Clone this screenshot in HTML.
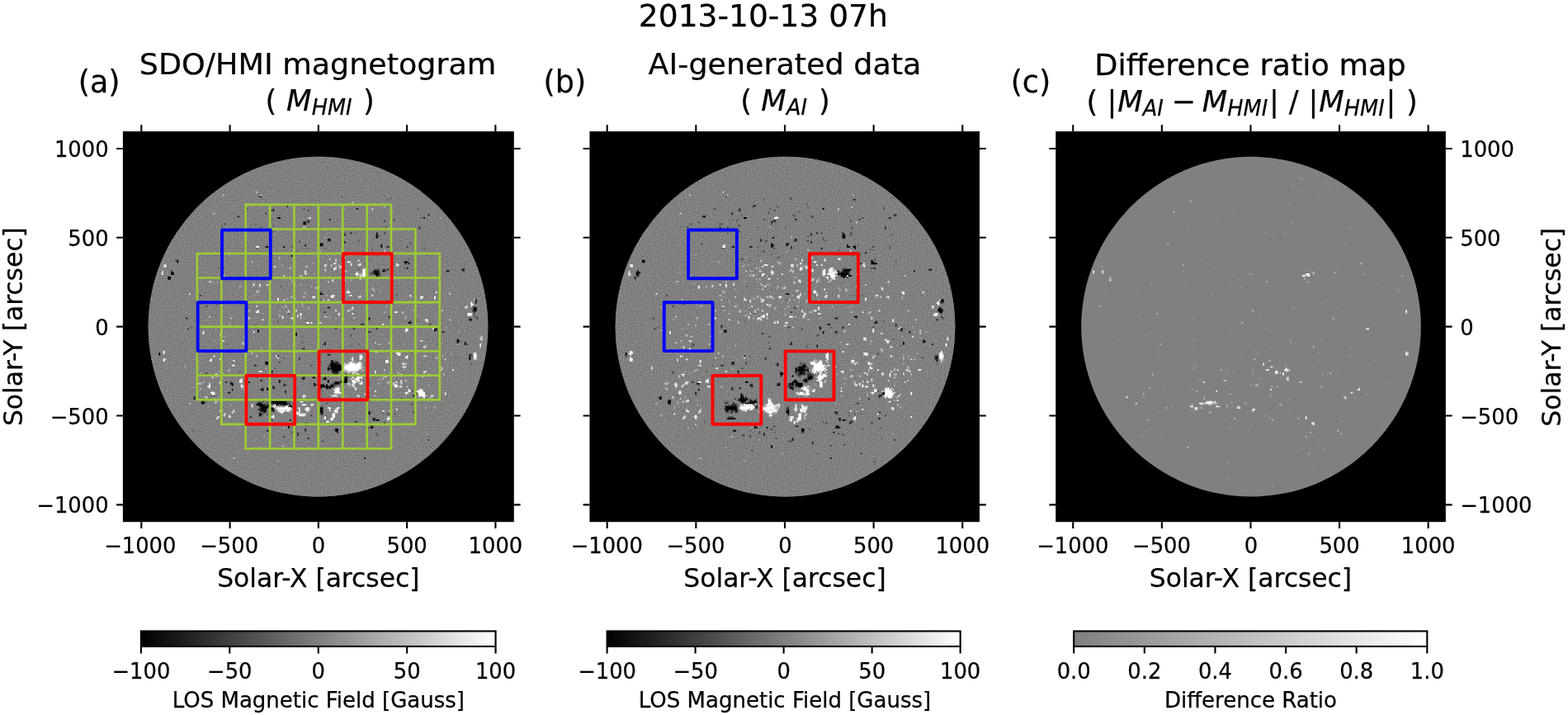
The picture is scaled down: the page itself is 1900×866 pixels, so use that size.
<!DOCTYPE html>
<html lang="en"><head><meta charset="utf-8"><title>2013-10-13 07h</title>
<style>
html,body{margin:0;padding:0;background:#fff;}
body{width:1900px;height:866px;overflow:hidden;}
svg{display:block;}
text{font-family:"DejaVu Sans", "Liberation Sans", sans-serif;fill:#000;stroke:#000;stroke-width:0.25px;stroke-linejoin:round;}
</style></head><body>
<svg width="1900" height="866" viewBox="0 0 1900 866">
<defs>
<linearGradient id="g1" x1="0" x2="1" y1="0" y2="0"><stop offset="0" stop-color="#000"/><stop offset="1" stop-color="#fff"/></linearGradient>
<linearGradient id="g2" x1="0" x2="1" y1="0" y2="0"><stop offset="0" stop-color="#808080"/><stop offset="1" stop-color="#fff"/></linearGradient>
<clipPath id="dk0"><ellipse cx="385.50" cy="395.65" rx="205.8" ry="205.9"/></clipPath><clipPath id="dk1"><ellipse cx="951.50" cy="395.65" rx="205.8" ry="205.9"/></clipPath><clipPath id="dk2"><ellipse cx="1516.00" cy="395.65" rx="205.8" ry="205.9"/></clipPath><filter id="nz0" x="0" y="0" width="100%" height="100%" color-interpolation-filters="sRGB"><feTurbulence type="fractalNoise" baseFrequency="0.85" numOctaves="1" seed="11" result="t"/><feColorMatrix type="matrix" values="0.36 0 0 0 0.322  0.36 0 0 0 0.322  0.36 0 0 0 0.322  0 0 0 0 1"/><feGaussianBlur stdDeviation="0.7"/></filter><filter id="nz1" x="0" y="0" width="100%" height="100%" color-interpolation-filters="sRGB"><feTurbulence type="fractalNoise" baseFrequency="0.85" numOctaves="1" seed="16" result="t"/><feColorMatrix type="matrix" values="0.36 0 0 0 0.322  0.36 0 0 0 0.322  0.36 0 0 0 0.322  0 0 0 0 1"/><feGaussianBlur stdDeviation="0.7"/></filter><filter id="sb" x="-2%" y="-2%" width="104%" height="104%" color-interpolation-filters="sRGB"><feGaussianBlur stdDeviation="0.6"/></filter></defs>
<rect width="1900" height="866" fill="#fff"/>

<text x="924.80" y="32.30" font-size="37.6" text-anchor="middle">2013-10-13 07h</text>
<g id="panel0">
<rect x="148.9" y="159.1" width="473.90" height="473.10" fill="#000"/>
<ellipse cx="385.5" cy="395.65" rx="205.8" ry="205.9" fill="#808080"/>
<rect x="149.85" y="160.05" width="472.00" height="471.20" filter="url(#nz0)" clip-path="url(#dk0)"/><g filter="url(#sb)" clip-path="url(#dk0)"><path fill="#000" d="M347.1 248.4h1.8v1.84h-1.8zM431.9 252.1h1.8v1.84h-1.8zM330.5 253.9h1.8v1.84h-1.8zM518.6 259.4h1.8v1.84h-1.8zM288.1 261.3h1.8v1.84h-1.8zM336.1 263.1h3.7v1.84h-3.7zM513.1 263.1h1.8v1.84h-1.8zM398.8 265.0h1.8v1.84h-1.8zM372.9 266.8h1.8v1.84h-1.8zM367.4 268.6h3.7v1.84h-3.7zM367.4 270.5h3.7v1.84h-3.7zM424.6 281.5h1.8v1.84h-1.8zM455.9 281.5h1.8v1.84h-1.8zM417.2 283.4h1.8v1.84h-1.8zM455.9 283.4h1.8v1.84h-1.8zM455.9 285.2h1.8v1.84h-1.8zM455.9 287.1h1.8v1.84h-1.8zM396.9 288.9h3.7v1.84h-3.7zM398.8 290.7h1.8v1.84h-1.8zM417.2 292.6h1.8v1.84h-1.8zM387.7 294.4h3.7v1.84h-3.7zM369.3 296.3h1.8v1.84h-1.8zM387.7 296.3h3.7v1.84h-3.7zM461.4 296.3h1.8v1.84h-1.8zM323.2 298.1h1.8v1.84h-1.8zM343.4 298.1h1.8v1.84h-1.8zM461.4 298.1h1.8v1.84h-1.8zM468.8 298.1h1.8v1.84h-1.8zM352.7 309.1h1.8v1.84h-1.8zM214.4 314.7h1.8v1.84h-1.8zM214.4 316.5h1.8v1.84h-1.8zM489.1 316.5h5.5v1.84h-5.5zM490.9 318.3h1.8v1.84h-1.8zM494.6 318.3h1.8v1.84h-1.8zM492.8 323.9h1.8v1.84h-1.8zM468.8 325.7h1.8v1.84h-1.8zM559.2 325.7h3.7v1.84h-3.7zM452.2 327.5h7.4v1.84h-7.4zM463.3 327.5h3.7v1.84h-3.7zM540.7 327.5h3.7v1.84h-3.7zM207.0 329.4h3.7v1.84h-3.7zM452.2 329.4h7.4v1.84h-7.4zM207.0 331.2h3.7v1.84h-3.7zM454.1 331.2h5.5v1.84h-5.5zM455.9 333.1h1.8v1.84h-1.8zM203.3 334.9h3.7v1.84h-3.7zM203.3 336.8h3.7v1.84h-3.7zM387.7 355.2h3.7v1.84h-3.7zM575.8 362.5h1.8v1.84h-1.8zM575.8 364.4h1.8v1.84h-1.8zM396.9 371.7h1.8v1.84h-1.8zM573.9 371.7h3.7v1.84h-3.7zM573.9 373.6h3.7v1.84h-3.7zM573.9 375.4h3.7v1.84h-3.7zM470.7 382.8h1.8v1.84h-1.8zM225.4 384.6h1.8v1.84h-1.8zM446.7 384.6h1.8v1.84h-1.8zM568.4 386.4h3.7v1.84h-3.7zM494.6 390.1h3.7v1.84h-3.7zM437.5 392.0h1.8v1.84h-1.8zM308.4 393.8h1.8v1.84h-1.8zM455.9 395.6h1.8v1.84h-1.8zM492.8 395.6h1.8v1.84h-1.8zM526.0 397.5h3.7v1.84h-3.7zM312.1 399.3h1.8v1.84h-1.8zM526.0 399.3h1.8v1.84h-1.8zM312.1 401.2h1.8v1.84h-1.8zM446.7 401.2h1.8v1.84h-1.8zM358.2 403.0h1.8v1.84h-1.8zM358.2 404.9h1.8v1.84h-1.8zM553.6 410.4h1.8v1.84h-1.8zM553.6 412.2h3.7v1.84h-3.7zM553.6 414.1h1.8v1.84h-1.8zM562.9 414.1h1.8v1.84h-1.8zM393.2 415.9h1.8v1.84h-1.8zM562.9 415.9h1.8v1.84h-1.8zM367.4 421.4h1.8v1.84h-1.8zM192.3 426.9h1.8v1.84h-1.8zM192.3 428.8h1.8v1.84h-1.8zM396.9 428.8h1.8v1.84h-1.8zM336.1 430.6h1.8v1.84h-1.8zM568.4 430.6h1.8v1.84h-1.8zM568.4 432.5h1.8v1.84h-1.8zM568.4 434.3h1.8v1.84h-1.8zM321.3 438.0h3.7v1.84h-3.7zM400.6 438.0h3.7v1.84h-3.7zM408.0 438.0h1.8v1.84h-1.8zM321.3 439.8h3.7v1.84h-3.7zM400.6 439.8h7.4v1.84h-7.4zM409.8 439.8h1.8v1.84h-1.8zM308.4 441.7h1.8v1.84h-1.8zM398.8 441.7h14.8v1.84h-14.8zM400.6 443.5h12.9v1.84h-12.9zM396.9 445.3h18.4v1.84h-18.4zM396.9 447.2h1.8v1.84h-1.8zM402.4 447.2h11.1v1.84h-11.1zM328.7 449.0h1.8v1.84h-1.8zM402.4 449.0h7.4v1.84h-7.4zM404.3 450.9h1.8v1.84h-1.8zM408.0 450.9h1.8v1.84h-1.8zM419.0 452.7h1.8v1.84h-1.8zM419.0 454.6h1.8v1.84h-1.8zM367.4 456.4h1.8v1.84h-1.8zM378.5 456.4h3.7v1.84h-3.7zM393.2 456.4h1.8v1.84h-1.8zM419.0 456.4h1.8v1.84h-1.8zM367.4 458.2h1.8v1.84h-1.8zM391.4 458.2h3.7v1.84h-3.7zM417.2 458.2h3.7v1.84h-3.7zM315.8 460.1h1.8v1.84h-1.8zM337.9 460.1h1.8v1.84h-1.8zM396.9 460.1h1.8v1.84h-1.8zM413.5 460.1h1.8v1.84h-1.8zM417.2 460.1h3.7v1.84h-3.7zM273.4 461.9h1.8v1.84h-1.8zM301.0 461.9h1.8v1.84h-1.8zM337.9 461.9h1.8v1.84h-1.8zM396.9 461.9h1.8v1.84h-1.8zM406.1 461.9h3.7v1.84h-3.7zM411.7 461.9h9.2v1.84h-9.2zM278.9 463.8h3.7v1.84h-3.7zM380.3 463.8h1.8v1.84h-1.8zM404.3 463.8h7.4v1.84h-7.4zM280.8 465.6h1.8v1.84h-1.8zM343.4 465.6h1.8v1.84h-1.8zM380.3 465.6h1.8v1.84h-1.8zM387.7 465.6h5.5v1.84h-5.5zM395.1 465.6h1.8v1.84h-1.8zM400.6 465.6h3.7v1.84h-3.7zM330.5 467.4h1.8v1.84h-1.8zM385.9 467.4h18.4v1.84h-18.4zM323.2 469.3h1.8v1.84h-1.8zM330.5 469.3h1.8v1.84h-1.8zM387.7 469.3h1.8v1.84h-1.8zM395.1 469.3h1.8v1.84h-1.8zM398.8 469.3h1.8v1.84h-1.8zM280.8 471.1h1.8v1.84h-1.8zM315.8 471.1h3.7v1.84h-3.7zM323.2 471.1h1.8v1.84h-1.8zM345.3 473.0h1.8v1.84h-1.8zM277.1 474.8h1.8v1.84h-1.8zM503.9 474.8h1.8v1.84h-1.8zM500.2 478.5h1.8v1.84h-1.8zM234.7 480.3h1.8v1.84h-1.8zM234.7 482.2h1.8v1.84h-1.8zM243.9 485.8h3.7v1.84h-3.7zM326.9 485.8h20.3v1.84h-20.3zM243.9 487.7h3.7v1.84h-3.7zM312.1 487.7h5.5v1.84h-5.5zM330.5 487.7h18.4v1.84h-18.4zM310.3 489.5h11.1v1.84h-11.1zM323.2 489.5h1.8v1.84h-1.8zM334.2 489.5h3.7v1.84h-3.7zM339.8 489.5h1.8v1.84h-1.8zM343.4 489.5h3.7v1.84h-3.7zM350.8 489.5h1.8v1.84h-1.8zM313.9 491.4h12.9v1.84h-12.9zM350.8 491.4h3.7v1.84h-3.7zM315.8 493.2h9.2v1.84h-9.2zM328.7 493.2h1.8v1.84h-1.8zM387.7 493.2h3.7v1.84h-3.7zM313.9 495.0h9.2v1.84h-9.2zM328.7 495.0h3.7v1.84h-3.7zM387.7 495.0h3.7v1.84h-3.7zM315.8 496.9h7.4v1.84h-7.4zM330.5 496.9h1.8v1.84h-1.8zM387.7 496.9h3.7v1.84h-3.7zM319.5 498.7h1.8v1.84h-1.8zM387.7 498.7h3.7v1.84h-3.7zM446.7 498.7h1.8v1.84h-1.8zM313.9 500.6h3.7v1.84h-3.7zM389.5 500.6h1.8v1.84h-1.8zM446.7 500.6h1.8v1.84h-1.8zM313.9 502.4h1.8v1.84h-1.8zM302.9 504.2h1.8v1.84h-1.8zM452.2 506.1h1.8v1.84h-1.8zM350.8 507.9h1.8v1.84h-1.8zM452.2 507.9h1.8v1.84h-1.8zM455.9 507.9h3.7v1.84h-3.7zM465.1 511.6h1.8v1.84h-1.8zM369.3 513.5h1.8v1.84h-1.8zM349.0 515.3h1.8v1.84h-1.8zM450.4 515.3h1.8v1.84h-1.8zM349.0 517.1h1.8v1.84h-1.8zM448.5 517.1h3.7v1.84h-3.7zM369.3 519.0h1.8v1.84h-1.8zM406.1 519.0h3.7v1.84h-3.7zM323.2 520.8h1.8v1.84h-1.8zM406.1 520.8h3.7v1.84h-3.7zM408.0 522.7h1.8v1.84h-1.8zM360.0 524.5h1.8v1.84h-1.8zM372.9 530.0h1.8v1.84h-1.8zM441.2 553.9h1.8v1.84h-1.8z"/><path fill="#303030" d="M313.9 237.4h3.7v1.84h-3.7zM328.7 253.9h1.8v1.84h-1.8zM372.9 253.9h1.8v1.84h-1.8zM321.3 257.6h1.8v1.84h-1.8zM476.2 265.0h1.8v1.84h-1.8zM465.1 266.8h1.8v1.84h-1.8zM372.9 268.6h1.8v1.84h-1.8zM271.5 270.5h1.8v1.84h-1.8zM507.5 274.2h1.8v1.84h-1.8zM507.5 276.0h1.8v1.84h-1.8zM306.6 277.9h1.8v1.84h-1.8zM465.1 281.5h1.8v1.84h-1.8zM457.8 285.2h1.8v1.84h-1.8zM396.9 290.7h1.8v1.84h-1.8zM413.5 290.7h1.8v1.84h-1.8zM321.3 298.1h1.8v1.84h-1.8zM492.8 298.1h1.8v1.84h-1.8zM326.9 312.8h1.8v1.84h-1.8zM212.5 314.7h1.8v1.84h-1.8zM267.9 323.9h3.7v1.84h-3.7zM454.1 325.7h1.8v1.84h-1.8zM457.8 325.7h1.8v1.84h-1.8zM463.3 325.7h3.7v1.84h-3.7zM207.0 327.5h1.8v1.84h-1.8zM561.0 327.5h1.8v1.84h-1.8zM450.4 329.4h1.8v1.84h-1.8zM457.8 333.1h1.8v1.84h-1.8zM387.7 353.3h1.8v1.84h-1.8zM242.0 357.0h1.8v1.84h-1.8zM575.8 366.2h1.8v1.84h-1.8zM249.4 369.9h1.8v1.84h-1.8zM398.8 371.7h1.8v1.84h-1.8zM572.1 375.4h1.8v1.84h-1.8zM393.2 377.2h1.8v1.84h-1.8zM573.9 377.2h1.8v1.84h-1.8zM472.5 382.8h1.8v1.84h-1.8zM568.4 384.6h1.8v1.84h-1.8zM577.6 384.6h1.8v1.84h-1.8zM446.7 386.4h1.8v1.84h-1.8zM496.5 388.3h1.8v1.84h-1.8zM439.3 392.0h1.8v1.84h-1.8zM520.4 392.0h1.8v1.84h-1.8zM428.3 395.6h1.8v1.84h-1.8zM227.3 397.5h1.8v1.84h-1.8zM406.1 397.5h1.8v1.84h-1.8zM428.3 397.5h1.8v1.84h-1.8zM455.9 397.5h1.8v1.84h-1.8zM527.8 399.3h1.8v1.84h-1.8zM535.2 401.2h3.7v1.84h-3.7zM393.2 414.1h1.8v1.84h-1.8zM391.4 415.9h1.8v1.84h-1.8zM564.7 415.9h1.8v1.84h-1.8zM398.8 428.8h1.8v1.84h-1.8zM568.4 428.8h3.7v1.84h-3.7zM361.9 434.3h1.8v1.84h-1.8zM400.6 436.1h3.7v1.84h-3.7zM337.9 438.0h1.8v1.84h-1.8zM404.3 438.0h3.7v1.84h-3.7zM408.0 439.8h1.8v1.84h-1.8zM376.6 441.7h1.8v1.84h-1.8zM396.9 443.5h1.8v1.84h-1.8zM400.6 447.2h1.8v1.84h-1.8zM409.8 449.0h1.8v1.84h-1.8zM249.4 450.9h1.8v1.84h-1.8zM328.7 450.9h1.8v1.84h-1.8zM402.4 450.9h1.8v1.84h-1.8zM406.1 450.9h1.8v1.84h-1.8zM406.1 452.7h1.8v1.84h-1.8zM417.2 454.6h1.8v1.84h-1.8zM365.6 456.4h1.8v1.84h-1.8zM417.2 456.4h1.8v1.84h-1.8zM365.6 458.2h1.8v1.84h-1.8zM278.9 461.9h1.8v1.84h-1.8zM409.8 461.9h1.8v1.84h-1.8zM345.3 465.6h1.8v1.84h-1.8zM382.2 465.6h1.8v1.84h-1.8zM404.3 465.6h1.8v1.84h-1.8zM317.6 469.3h1.8v1.84h-1.8zM385.9 469.3h1.8v1.84h-1.8zM396.9 469.3h1.8v1.84h-1.8zM498.3 473.0h1.8v1.84h-1.8zM345.3 474.8h1.8v1.84h-1.8zM503.9 476.6h1.8v1.84h-1.8zM258.6 478.5h1.8v1.84h-1.8zM485.4 482.2h1.8v1.84h-1.8zM245.7 484.0h1.8v1.84h-1.8zM319.5 484.0h1.8v1.84h-1.8zM313.9 485.8h1.8v1.84h-1.8zM317.6 485.8h1.8v1.84h-1.8zM321.3 487.7h1.8v1.84h-1.8zM325.0 487.7h1.8v1.84h-1.8zM328.7 487.7h1.8v1.84h-1.8zM349.0 487.7h1.8v1.84h-1.8zM354.5 487.7h1.8v1.84h-1.8zM472.5 487.7h1.8v1.84h-1.8zM341.6 489.5h1.8v1.84h-1.8zM330.5 493.2h1.8v1.84h-1.8zM312.1 495.0h1.8v1.84h-1.8zM328.7 496.9h1.8v1.84h-1.8zM446.7 496.9h1.8v1.84h-1.8zM313.9 498.7h1.8v1.84h-1.8zM500.2 498.7h1.8v1.84h-1.8zM315.8 502.4h1.8v1.84h-1.8zM356.4 502.4h1.8v1.84h-1.8zM376.6 502.4h1.8v1.84h-1.8zM356.4 504.2h1.8v1.84h-1.8zM328.7 507.9h1.8v1.84h-1.8zM454.1 507.9h1.8v1.84h-1.8zM430.1 509.8h1.8v1.84h-1.8zM371.1 513.5h1.8v1.84h-1.8zM369.3 520.8h1.8v1.84h-1.8zM354.5 522.7h1.8v1.84h-1.8zM360.0 526.3h1.8v1.84h-1.8zM343.4 528.2h1.8v1.84h-1.8zM518.6 531.9h1.8v1.84h-1.8z"/><path fill="#555" d="M413.5 237.4h1.8v1.84h-1.8zM472.5 239.2h1.8v1.84h-1.8zM468.8 241.0h1.8v1.84h-1.8zM347.1 250.2h1.8v1.84h-1.8zM413.5 250.2h1.8v1.84h-1.8zM299.2 252.1h1.8v1.84h-1.8zM330.5 252.1h1.8v1.84h-1.8zM367.4 252.1h1.8v1.84h-1.8zM505.7 252.1h1.8v1.84h-1.8zM509.4 263.1h1.8v1.84h-1.8zM328.7 265.0h1.8v1.84h-1.8zM371.1 266.8h1.8v1.84h-1.8zM308.4 270.5h1.8v1.84h-1.8zM330.5 272.3h1.8v1.84h-1.8zM267.9 274.2h1.8v1.84h-1.8zM315.8 274.2h1.8v1.84h-1.8zM385.9 274.2h1.8v1.84h-1.8zM467.0 274.2h1.8v1.84h-1.8zM467.0 276.0h1.8v1.84h-1.8zM330.5 279.7h1.8v1.84h-1.8zM417.2 281.5h1.8v1.84h-1.8zM430.1 281.5h1.8v1.84h-1.8zM413.5 285.2h1.8v1.84h-1.8zM454.1 285.2h1.8v1.84h-1.8zM356.4 290.7h1.8v1.84h-1.8zM361.9 290.7h1.8v1.84h-1.8zM433.8 290.7h1.8v1.84h-1.8zM361.9 292.6h1.8v1.84h-1.8zM496.5 292.6h1.8v1.84h-1.8zM496.5 294.4h1.8v1.84h-1.8zM474.4 296.3h1.8v1.84h-1.8zM352.7 298.1h1.8v1.84h-1.8zM470.7 298.1h1.8v1.84h-1.8zM310.3 299.9h1.8v1.84h-1.8zM371.1 299.9h1.8v1.84h-1.8zM393.2 299.9h1.8v1.84h-1.8zM513.1 299.9h1.8v1.84h-1.8zM450.4 301.8h1.8v1.84h-1.8zM358.2 303.6h1.8v1.84h-1.8zM450.4 305.5h3.7v1.84h-3.7zM448.5 312.8h1.8v1.84h-1.8zM494.6 312.8h1.8v1.84h-1.8zM264.2 323.9h1.8v1.84h-1.8zM489.1 323.9h1.8v1.84h-1.8zM561.0 323.9h1.8v1.84h-1.8zM433.8 325.7h1.8v1.84h-1.8zM455.9 325.7h1.8v1.84h-1.8zM467.0 327.5h1.8v1.84h-1.8zM448.5 329.4h1.8v1.84h-1.8zM459.6 329.4h1.8v1.84h-1.8zM448.5 331.2h5.5v1.84h-5.5zM459.6 331.2h1.8v1.84h-1.8zM459.6 333.1h1.8v1.84h-1.8zM382.2 334.9h1.8v1.84h-1.8zM455.9 334.9h1.8v1.84h-1.8zM339.8 346.0h1.8v1.84h-1.8zM479.9 357.0h1.8v1.84h-1.8zM387.7 362.5h1.8v1.84h-1.8zM262.3 368.0h1.8v1.84h-1.8zM299.2 371.7h1.8v1.84h-1.8zM572.1 371.7h1.8v1.84h-1.8zM572.1 373.6h1.8v1.84h-1.8zM391.4 377.2h1.8v1.84h-1.8zM349.0 379.1h1.8v1.84h-1.8zM573.9 379.1h1.8v1.84h-1.8zM573.9 382.8h3.7v1.84h-3.7zM470.7 384.6h1.8v1.84h-1.8zM503.9 386.4h1.8v1.84h-1.8zM336.1 388.3h1.8v1.84h-1.8zM503.9 388.3h1.8v1.84h-1.8zM306.6 393.8h1.8v1.84h-1.8zM231.0 395.6h1.8v1.84h-1.8zM389.5 395.6h1.8v1.84h-1.8zM441.2 395.6h1.8v1.84h-1.8zM448.5 401.2h1.8v1.84h-1.8zM297.4 404.9h1.8v1.84h-1.8zM424.6 404.9h1.8v1.84h-1.8zM365.6 406.7h1.8v1.84h-1.8zM424.6 406.7h1.8v1.84h-1.8zM516.8 410.4h1.8v1.84h-1.8zM365.6 414.1h1.8v1.84h-1.8zM273.4 415.9h1.8v1.84h-1.8zM433.8 415.9h1.8v1.84h-1.8zM529.7 415.9h1.8v1.84h-1.8zM424.6 417.7h1.8v1.84h-1.8zM365.6 421.4h1.8v1.84h-1.8zM498.3 426.9h1.8v1.84h-1.8zM343.4 432.5h1.8v1.84h-1.8zM361.9 432.5h1.8v1.84h-1.8zM494.6 432.5h1.8v1.84h-1.8zM551.8 432.5h1.8v1.84h-1.8zM570.2 432.5h1.8v1.84h-1.8zM406.1 436.1h1.8v1.84h-1.8zM387.7 438.0h1.8v1.84h-1.8zM398.8 439.8h1.8v1.84h-1.8zM570.2 439.8h1.8v1.84h-1.8zM297.4 441.7h1.8v1.84h-1.8zM310.3 441.7h1.8v1.84h-1.8zM413.5 441.7h1.8v1.84h-1.8zM332.4 445.3h1.8v1.84h-1.8zM413.5 447.2h1.8v1.84h-1.8zM290.0 449.0h1.8v1.84h-1.8zM400.6 449.0h1.8v1.84h-1.8zM420.9 454.6h1.8v1.84h-1.8zM395.1 458.2h1.8v1.84h-1.8zM415.4 460.1h1.8v1.84h-1.8zM404.3 461.9h1.8v1.84h-1.8zM343.4 463.8h1.8v1.84h-1.8zM402.4 463.8h1.8v1.84h-1.8zM406.1 465.6h1.8v1.84h-1.8zM332.4 469.3h1.8v1.84h-1.8zM317.6 473.0h1.8v1.84h-1.8zM275.2 474.8h1.8v1.84h-1.8zM254.9 478.5h1.8v1.84h-1.8zM389.5 482.2h1.8v1.84h-1.8zM317.6 484.0h1.8v1.84h-1.8zM247.6 485.8h1.8v1.84h-1.8zM323.2 485.8h1.8v1.84h-1.8zM347.1 485.8h5.5v1.84h-5.5zM356.4 485.8h1.8v1.84h-1.8zM247.6 487.7h1.8v1.84h-1.8zM310.3 487.7h1.8v1.84h-1.8zM395.1 487.7h1.8v1.84h-1.8zM498.3 487.7h1.8v1.84h-1.8zM328.7 489.5h1.8v1.84h-1.8zM337.9 489.5h1.8v1.84h-1.8zM347.1 489.5h1.8v1.84h-1.8zM498.3 489.5h1.8v1.84h-1.8zM349.0 491.4h1.8v1.84h-1.8zM389.5 491.4h1.8v1.84h-1.8zM313.9 496.9h1.8v1.84h-1.8zM317.6 498.7h1.8v1.84h-1.8zM321.3 498.7h1.8v1.84h-1.8zM448.5 498.7h1.8v1.84h-1.8zM463.3 498.7h1.8v1.84h-1.8zM317.6 500.6h1.8v1.84h-1.8zM323.2 500.6h1.8v1.84h-1.8zM387.7 500.6h1.8v1.84h-1.8zM468.8 500.6h3.7v1.84h-3.7zM478.0 500.6h1.8v1.84h-1.8zM450.4 506.1h1.8v1.84h-1.8zM454.1 506.1h1.8v1.84h-1.8zM431.9 509.8h1.8v1.84h-1.8zM369.3 511.6h3.7v1.84h-3.7zM306.6 513.5h3.7v1.84h-3.7zM448.5 515.3h1.8v1.84h-1.8zM446.7 517.1h1.8v1.84h-1.8zM232.8 520.8h1.8v1.84h-1.8zM325.0 520.8h1.8v1.84h-1.8zM352.7 522.7h1.8v1.84h-1.8zM455.9 524.5h1.8v1.84h-1.8zM455.9 526.3h1.8v1.84h-1.8zM389.5 533.7h3.7v1.84h-3.7z"/><path fill="#aaa" d="M468.8 235.5h1.8v1.84h-1.8zM465.1 250.2h1.8v1.84h-1.8zM450.4 253.9h1.8v1.84h-1.8zM372.9 263.1h1.8v1.84h-1.8zM533.4 263.1h1.8v1.84h-1.8zM369.3 274.2h1.8v1.84h-1.8zM393.2 287.1h1.8v1.84h-1.8zM465.1 301.8h1.8v1.84h-1.8zM387.7 303.6h1.8v1.84h-1.8zM277.1 307.3h1.8v1.84h-1.8zM337.9 311.0h1.8v1.84h-1.8zM337.9 312.8h1.8v1.84h-1.8zM406.1 312.8h1.8v1.84h-1.8zM356.4 316.5h1.8v1.84h-1.8zM297.4 318.3h1.8v1.84h-1.8zM378.5 318.3h1.8v1.84h-1.8zM341.6 320.2h1.8v1.84h-1.8zM395.1 320.2h1.8v1.84h-1.8zM409.8 320.2h1.8v1.84h-1.8zM369.3 322.0h1.8v1.84h-1.8zM400.6 322.0h1.8v1.84h-1.8zM406.1 322.0h1.8v1.84h-1.8zM409.8 322.0h1.8v1.84h-1.8zM479.9 322.0h1.8v1.84h-1.8zM354.5 323.9h1.8v1.84h-1.8zM441.2 323.9h1.8v1.84h-1.8zM354.5 327.5h1.8v1.84h-1.8zM393.2 327.5h1.8v1.84h-1.8zM419.0 327.5h1.8v1.84h-1.8zM437.5 329.4h1.8v1.84h-1.8zM371.1 331.2h1.8v1.84h-1.8zM380.3 331.2h1.8v1.84h-1.8zM437.5 333.1h1.8v1.84h-1.8zM396.9 334.9h3.7v1.84h-3.7zM350.8 336.8h1.8v1.84h-1.8zM365.6 336.8h1.8v1.84h-1.8zM376.6 336.8h1.8v1.84h-1.8zM424.6 338.6h1.8v1.84h-1.8zM262.3 340.4h1.8v1.84h-1.8zM352.7 340.4h3.7v1.84h-3.7zM402.4 340.4h1.8v1.84h-1.8zM306.6 342.3h1.8v1.84h-1.8zM356.4 342.3h1.8v1.84h-1.8zM356.4 344.1h1.8v1.84h-1.8zM363.7 344.1h1.8v1.84h-1.8zM376.6 346.0h1.8v1.84h-1.8zM450.4 347.8h1.8v1.84h-1.8zM502.0 347.8h1.8v1.84h-1.8zM413.5 349.6h1.8v1.84h-1.8zM450.4 349.6h3.7v1.84h-3.7zM310.3 351.5h3.7v1.84h-3.7zM452.2 351.5h1.8v1.84h-1.8zM459.6 351.5h1.8v1.84h-1.8zM310.3 353.3h3.7v1.84h-3.7zM369.3 353.3h1.8v1.84h-1.8zM544.4 353.3h1.8v1.84h-1.8zM369.3 355.2h1.8v1.84h-1.8zM306.6 357.0h1.8v1.84h-1.8zM395.1 357.0h1.8v1.84h-1.8zM400.6 357.0h1.8v1.84h-1.8zM435.6 357.0h1.8v1.84h-1.8zM404.3 358.8h1.8v1.84h-1.8zM496.5 358.8h1.8v1.84h-1.8zM347.1 360.7h1.8v1.84h-1.8zM378.5 360.7h1.8v1.84h-1.8zM356.4 362.5h1.8v1.84h-1.8zM266.0 364.4h1.8v1.84h-1.8zM336.1 364.4h1.8v1.84h-1.8zM402.4 364.4h1.8v1.84h-1.8zM570.2 364.4h1.8v1.84h-1.8zM297.4 366.2h1.8v1.84h-1.8zM422.7 366.2h1.8v1.84h-1.8zM572.1 366.2h1.8v1.84h-1.8zM365.6 368.0h1.8v1.84h-1.8zM365.6 369.9h1.8v1.84h-1.8zM443.0 369.9h1.8v1.84h-1.8zM467.0 369.9h1.8v1.84h-1.8zM562.9 369.9h1.8v1.84h-1.8zM341.6 371.7h1.8v1.84h-1.8zM372.9 371.7h1.8v1.84h-1.8zM443.0 371.7h1.8v1.84h-1.8zM372.9 373.6h1.8v1.84h-1.8zM424.6 373.6h1.8v1.84h-1.8zM310.3 375.4h1.8v1.84h-1.8zM337.9 375.4h1.8v1.84h-1.8zM500.2 375.4h1.8v1.84h-1.8zM347.1 377.2h1.8v1.84h-1.8zM465.1 377.2h1.8v1.84h-1.8zM317.6 379.1h1.8v1.84h-1.8zM487.3 379.1h1.8v1.84h-1.8zM395.1 382.8h1.8v1.84h-1.8zM398.8 382.8h1.8v1.84h-1.8zM490.9 382.8h1.8v1.84h-1.8zM406.1 384.6h1.8v1.84h-1.8zM428.3 384.6h1.8v1.84h-1.8zM490.9 384.6h1.8v1.84h-1.8zM249.4 386.4h1.8v1.84h-1.8zM413.5 386.4h3.7v1.84h-3.7zM514.9 388.3h1.8v1.84h-1.8zM277.1 392.0h1.8v1.84h-1.8zM277.1 393.8h1.8v1.84h-1.8zM385.9 393.8h1.8v1.84h-1.8zM538.9 395.6h1.8v1.84h-1.8zM260.5 397.5h1.8v1.84h-1.8zM555.5 401.2h1.8v1.84h-1.8zM271.5 406.7h1.8v1.84h-1.8zM583.1 408.5h1.8v1.84h-1.8zM581.3 410.4h1.8v1.84h-1.8zM258.6 412.2h1.8v1.84h-1.8zM511.2 412.2h1.8v1.84h-1.8zM457.8 415.9h3.7v1.84h-3.7zM489.1 415.9h1.8v1.84h-1.8zM553.6 415.9h1.8v1.84h-1.8zM325.0 417.7h1.8v1.84h-1.8zM514.9 419.6h1.8v1.84h-1.8zM315.8 421.4h1.8v1.84h-1.8zM295.5 425.1h1.8v1.84h-1.8zM546.3 426.9h1.8v1.84h-1.8zM437.5 428.8h1.8v1.84h-1.8zM490.9 430.6h1.8v1.84h-1.8zM535.2 430.6h1.8v1.84h-1.8zM468.8 432.5h1.8v1.84h-1.8zM529.7 432.5h1.8v1.84h-1.8zM424.6 434.3h1.8v1.84h-1.8zM437.5 434.3h1.8v1.84h-1.8zM253.1 436.1h1.8v1.84h-1.8zM426.4 438.0h3.7v1.84h-3.7zM487.3 438.0h1.8v1.84h-1.8zM419.0 439.8h1.8v1.84h-1.8zM437.5 441.7h1.8v1.84h-1.8zM223.6 443.5h1.8v1.84h-1.8zM385.9 443.5h1.8v1.84h-1.8zM437.5 443.5h3.7v1.84h-3.7zM321.3 445.3h1.8v1.84h-1.8zM437.5 445.3h1.8v1.84h-1.8zM489.1 445.3h1.8v1.84h-1.8zM437.5 447.2h3.7v1.84h-3.7zM264.2 449.0h1.8v1.84h-1.8zM275.2 449.0h1.8v1.84h-1.8zM417.2 449.0h3.7v1.84h-3.7zM430.1 449.0h1.8v1.84h-1.8zM437.5 449.0h1.8v1.84h-1.8zM242.0 450.9h1.8v1.84h-1.8zM269.7 450.9h1.8v1.84h-1.8zM431.9 450.9h1.8v1.84h-1.8zM476.2 454.6h3.7v1.84h-3.7zM513.1 454.6h1.8v1.84h-1.8zM428.3 456.4h1.8v1.84h-1.8zM463.3 456.4h1.8v1.84h-1.8zM428.3 458.2h1.8v1.84h-1.8zM437.5 458.2h1.8v1.84h-1.8zM459.6 458.2h1.8v1.84h-1.8zM463.3 458.2h1.8v1.84h-1.8zM430.1 460.1h1.8v1.84h-1.8zM435.6 460.1h1.8v1.84h-1.8zM243.9 461.9h3.7v1.84h-3.7zM468.8 461.9h1.8v1.84h-1.8zM478.0 461.9h1.8v1.84h-1.8zM426.4 463.8h1.8v1.84h-1.8zM457.8 463.8h1.8v1.84h-1.8zM468.8 463.8h1.8v1.84h-1.8zM428.3 465.6h1.8v1.84h-1.8zM476.2 465.6h1.8v1.84h-1.8zM518.6 465.6h1.8v1.84h-1.8zM426.4 467.4h1.8v1.84h-1.8zM242.0 469.3h1.8v1.84h-1.8zM291.8 469.3h1.8v1.84h-1.8zM446.7 469.3h1.8v1.84h-1.8zM242.0 471.1h1.8v1.84h-1.8zM511.2 471.1h1.8v1.84h-1.8zM256.8 473.0h1.8v1.84h-1.8zM404.3 473.0h1.8v1.84h-1.8zM406.1 476.6h1.8v1.84h-1.8zM411.7 476.6h1.8v1.84h-1.8zM365.6 478.5h1.8v1.84h-1.8zM400.6 478.5h1.8v1.84h-1.8zM452.2 478.5h3.7v1.84h-3.7zM505.7 478.5h1.8v1.84h-1.8zM247.6 480.3h1.8v1.84h-1.8zM264.2 480.3h1.8v1.84h-1.8zM433.8 480.3h1.8v1.84h-1.8zM507.5 480.3h1.8v1.84h-1.8zM511.2 480.3h1.8v1.84h-1.8zM520.4 480.3h3.7v1.84h-3.7zM439.3 482.2h3.7v1.84h-3.7zM266.0 484.0h1.8v1.84h-1.8zM278.9 484.0h1.8v1.84h-1.8zM516.8 484.0h1.8v1.84h-1.8zM262.3 485.8h1.8v1.84h-1.8zM260.5 487.7h1.8v1.84h-1.8zM278.9 489.5h1.8v1.84h-1.8zM251.3 491.4h1.8v1.84h-1.8zM328.7 491.4h1.8v1.84h-1.8zM334.2 491.4h1.8v1.84h-1.8zM376.6 491.4h1.8v1.84h-1.8zM526.0 491.4h1.8v1.84h-1.8zM360.0 493.2h1.8v1.84h-1.8zM369.3 493.2h1.8v1.84h-1.8zM514.9 493.2h1.8v1.84h-1.8zM526.0 493.2h1.8v1.84h-1.8zM282.6 495.0h1.8v1.84h-1.8zM352.7 495.0h1.8v1.84h-1.8zM374.8 495.0h1.8v1.84h-1.8zM345.3 496.9h1.8v1.84h-1.8zM350.8 496.9h1.8v1.84h-1.8zM465.1 496.9h1.8v1.84h-1.8zM470.7 496.9h3.7v1.84h-3.7zM337.9 498.7h1.8v1.84h-1.8zM269.7 502.4h1.8v1.84h-1.8zM369.3 502.4h1.8v1.84h-1.8zM262.3 504.2h1.8v1.84h-1.8zM278.9 504.2h1.8v1.84h-1.8zM468.8 504.2h1.8v1.84h-1.8zM330.5 506.1h1.8v1.84h-1.8zM391.4 506.1h1.8v1.84h-1.8zM470.7 507.9h1.8v1.84h-1.8zM334.2 511.6h1.8v1.84h-1.8zM343.4 517.1h1.8v1.84h-1.8zM516.8 524.5h1.8v1.84h-1.8zM319.5 528.2h1.8v1.84h-1.8zM354.5 531.9h1.8v1.84h-1.8zM313.9 541.1h1.8v1.84h-1.8zM336.1 557.6h1.8v1.84h-1.8z"/><path fill="#d0d0d0" d="M310.3 231.8h1.8v1.84h-1.8zM269.7 235.5h1.8v1.84h-1.8zM315.8 235.5h1.8v1.84h-1.8zM426.4 244.7h1.8v1.84h-1.8zM450.4 252.1h1.8v1.84h-1.8zM258.6 257.6h1.8v1.84h-1.8zM472.5 268.6h1.8v1.84h-1.8zM367.4 274.2h1.8v1.84h-1.8zM413.5 301.8h1.8v1.84h-1.8zM465.1 303.6h1.8v1.84h-1.8zM417.2 311.0h1.8v1.84h-1.8zM398.8 312.8h1.8v1.84h-1.8zM304.7 316.5h1.8v1.84h-1.8zM406.1 318.3h1.8v1.84h-1.8zM424.6 318.3h1.8v1.84h-1.8zM435.6 318.3h1.8v1.84h-1.8zM479.9 318.3h1.8v1.84h-1.8zM197.8 320.2h1.8v1.84h-1.8zM400.6 320.2h1.8v1.84h-1.8zM197.8 322.0h1.8v1.84h-1.8zM371.1 322.0h1.8v1.84h-1.8zM393.2 322.0h1.8v1.84h-1.8zM350.8 323.9h1.8v1.84h-1.8zM411.7 323.9h1.8v1.84h-1.8zM393.2 325.7h1.8v1.84h-1.8zM195.9 327.5h1.8v1.84h-1.8zM417.2 327.5h1.8v1.84h-1.8zM369.3 331.2h1.8v1.84h-1.8zM433.8 331.2h1.8v1.84h-1.8zM437.5 331.2h1.8v1.84h-1.8zM343.4 333.1h1.8v1.84h-1.8zM363.7 333.1h1.8v1.84h-1.8zM431.9 333.1h1.8v1.84h-1.8zM415.4 334.9h1.8v1.84h-1.8zM439.3 334.9h3.7v1.84h-3.7zM417.2 338.6h1.8v1.84h-1.8zM253.1 340.4h3.7v1.84h-3.7zM396.9 340.4h1.8v1.84h-1.8zM290.0 346.0h1.8v1.84h-1.8zM313.9 346.0h1.8v1.84h-1.8zM382.2 347.8h5.5v1.84h-5.5zM419.0 353.3h1.8v1.84h-1.8zM544.4 355.2h1.8v1.84h-1.8zM404.3 357.0h1.8v1.84h-1.8zM422.7 357.0h1.8v1.84h-1.8zM352.7 358.8h1.8v1.84h-1.8zM367.4 358.8h1.8v1.84h-1.8zM433.8 358.8h1.8v1.84h-1.8zM502.0 358.8h1.8v1.84h-1.8zM356.4 360.7h1.8v1.84h-1.8zM343.4 362.5h1.8v1.84h-1.8zM391.4 362.5h1.8v1.84h-1.8zM573.9 362.5h1.8v1.84h-1.8zM271.5 364.4h1.8v1.84h-1.8zM411.7 364.4h1.8v1.84h-1.8zM455.9 364.4h1.8v1.84h-1.8zM345.3 369.9h1.8v1.84h-1.8zM564.7 369.9h1.8v1.84h-1.8zM570.2 369.9h1.8v1.84h-1.8zM562.9 371.7h1.8v1.84h-1.8zM426.4 373.6h1.8v1.84h-1.8zM301.0 375.4h1.8v1.84h-1.8zM349.0 375.4h1.8v1.84h-1.8zM422.7 375.4h1.8v1.84h-1.8zM535.2 375.4h1.8v1.84h-1.8zM349.0 377.2h1.8v1.84h-1.8zM487.3 377.2h1.8v1.84h-1.8zM337.9 380.9h1.8v1.84h-1.8zM360.0 380.9h1.8v1.84h-1.8zM409.8 380.9h1.8v1.84h-1.8zM570.2 380.9h1.8v1.84h-1.8zM253.1 382.8h1.8v1.84h-1.8zM360.0 382.8h1.8v1.84h-1.8zM393.2 382.8h1.8v1.84h-1.8zM278.9 384.6h1.8v1.84h-1.8zM341.6 384.6h1.8v1.84h-1.8zM363.7 384.6h1.8v1.84h-1.8zM544.4 386.4h1.8v1.84h-1.8zM385.9 390.1h3.7v1.84h-3.7zM267.9 392.0h1.8v1.84h-1.8zM297.4 393.8h1.8v1.84h-1.8zM490.9 397.5h1.8v1.84h-1.8zM490.9 401.2h1.8v1.84h-1.8zM502.0 403.0h1.8v1.84h-1.8zM266.0 404.9h1.8v1.84h-1.8zM295.5 406.7h1.8v1.84h-1.8zM583.1 406.7h1.8v1.84h-1.8zM293.7 414.1h1.8v1.84h-1.8zM454.1 414.1h1.8v1.84h-1.8zM470.7 414.1h1.8v1.84h-1.8zM293.7 415.9h1.8v1.84h-1.8zM514.9 417.7h1.8v1.84h-1.8zM581.3 419.6h1.8v1.84h-1.8zM502.0 423.3h1.8v1.84h-1.8zM291.8 425.1h3.7v1.84h-3.7zM304.7 426.9h1.8v1.84h-1.8zM575.8 426.9h1.8v1.84h-1.8zM435.6 428.8h1.8v1.84h-1.8zM310.3 430.6h1.8v1.84h-1.8zM513.1 430.6h3.7v1.84h-3.7zM527.8 432.5h1.8v1.84h-1.8zM199.6 434.3h1.8v1.84h-1.8zM538.9 434.3h1.8v1.84h-1.8zM573.9 434.3h3.7v1.84h-3.7zM426.4 436.1h1.8v1.84h-1.8zM422.7 438.0h1.8v1.84h-1.8zM433.8 438.0h1.8v1.84h-1.8zM417.2 439.8h1.8v1.84h-1.8zM420.9 439.8h1.8v1.84h-1.8zM430.1 439.8h1.8v1.84h-1.8zM437.5 439.8h1.8v1.84h-1.8zM489.1 439.8h3.7v1.84h-3.7zM415.4 441.7h3.7v1.84h-3.7zM415.4 443.5h1.8v1.84h-1.8zM487.3 443.5h1.8v1.84h-1.8zM490.9 443.5h1.8v1.84h-1.8zM533.4 443.5h1.8v1.84h-1.8zM415.4 445.3h1.8v1.84h-1.8zM535.2 445.3h1.8v1.84h-1.8zM277.1 447.2h1.8v1.84h-1.8zM417.2 447.2h3.7v1.84h-3.7zM433.8 447.2h1.8v1.84h-1.8zM465.1 447.2h1.8v1.84h-1.8zM420.9 449.0h1.8v1.84h-1.8zM424.6 449.0h3.7v1.84h-3.7zM431.9 449.0h1.8v1.84h-1.8zM513.1 449.0h1.8v1.84h-1.8zM420.9 450.9h1.8v1.84h-1.8zM426.4 450.9h5.5v1.84h-5.5zM454.1 450.9h1.8v1.84h-1.8zM472.5 450.9h1.8v1.84h-1.8zM481.7 450.9h1.8v1.84h-1.8zM513.1 450.9h1.8v1.84h-1.8zM426.4 452.7h1.8v1.84h-1.8zM518.6 452.7h1.8v1.84h-1.8zM537.0 452.7h1.8v1.84h-1.8zM256.8 454.6h1.8v1.84h-1.8zM262.3 454.6h1.8v1.84h-1.8zM437.5 454.6h1.8v1.84h-1.8zM256.8 456.4h1.8v1.84h-1.8zM424.6 458.2h1.8v1.84h-1.8zM485.4 460.1h1.8v1.84h-1.8zM490.9 460.1h1.8v1.84h-1.8zM433.8 461.9h1.8v1.84h-1.8zM470.7 461.9h1.8v1.84h-1.8zM240.2 463.8h3.7v1.84h-3.7zM253.1 463.8h1.8v1.84h-1.8zM266.0 463.8h1.8v1.84h-1.8zM420.9 463.8h3.7v1.84h-3.7zM485.4 463.8h1.8v1.84h-1.8zM422.7 465.6h1.8v1.84h-1.8zM325.0 467.4h3.7v1.84h-3.7zM492.8 467.4h1.8v1.84h-1.8zM253.1 469.3h1.8v1.84h-1.8zM406.1 469.3h1.8v1.84h-1.8zM295.5 471.1h3.7v1.84h-3.7zM404.3 471.1h1.8v1.84h-1.8zM507.5 471.1h1.8v1.84h-1.8zM502.0 473.0h1.8v1.84h-1.8zM404.3 474.8h1.8v1.84h-1.8zM538.9 474.8h1.8v1.84h-1.8zM441.2 476.6h1.8v1.84h-1.8zM490.9 476.6h1.8v1.84h-1.8zM369.3 478.5h1.8v1.84h-1.8zM408.0 478.5h1.8v1.84h-1.8zM431.9 478.5h1.8v1.84h-1.8zM514.9 478.5h1.8v1.84h-1.8zM524.1 478.5h1.8v1.84h-1.8zM258.6 482.2h1.8v1.84h-1.8zM267.9 484.0h1.8v1.84h-1.8zM260.5 485.8h1.8v1.84h-1.8zM365.6 485.8h1.8v1.84h-1.8zM229.1 487.7h1.8v1.84h-1.8zM336.1 491.4h1.8v1.84h-1.8zM339.8 491.4h1.8v1.84h-1.8zM332.4 493.2h3.7v1.84h-3.7zM334.2 495.0h1.8v1.84h-1.8zM336.1 496.9h1.8v1.84h-1.8zM372.9 496.9h1.8v1.84h-1.8zM398.8 496.9h1.8v1.84h-1.8zM408.0 496.9h1.8v1.84h-1.8zM361.9 498.7h1.8v1.84h-1.8zM408.0 498.7h1.8v1.84h-1.8zM358.2 500.6h1.8v1.84h-1.8zM361.9 500.6h1.8v1.84h-1.8zM365.6 500.6h1.8v1.84h-1.8zM369.3 500.6h1.8v1.84h-1.8zM271.5 502.4h1.8v1.84h-1.8zM295.5 504.2h1.8v1.84h-1.8zM470.7 504.2h1.8v1.84h-1.8zM402.4 507.9h1.8v1.84h-1.8zM468.8 507.9h1.8v1.84h-1.8zM277.1 513.5h1.8v1.84h-1.8zM341.6 539.2h1.8v1.84h-1.8zM282.6 553.9h1.8v1.84h-1.8z"/><path fill="#fff" d="M374.8 263.1h1.8v1.84h-1.8zM310.3 298.1h3.7v1.84h-3.7zM326.9 314.7h1.8v1.84h-1.8zM406.1 314.7h1.8v1.84h-1.8zM433.8 314.7h1.8v1.84h-1.8zM420.9 316.5h3.7v1.84h-3.7zM404.3 318.3h1.8v1.84h-1.8zM199.6 320.2h1.8v1.84h-1.8zM393.2 320.2h1.8v1.84h-1.8zM424.6 320.2h1.8v1.84h-1.8zM433.8 320.2h3.7v1.84h-3.7zM479.9 320.2h3.7v1.84h-3.7zM199.6 322.0h1.8v1.84h-1.8zM332.4 322.0h1.8v1.84h-1.8zM411.7 322.0h1.8v1.84h-1.8zM404.3 323.9h3.7v1.84h-3.7zM404.3 325.7h1.8v1.84h-1.8zM439.3 325.7h3.7v1.84h-3.7zM369.3 327.5h1.8v1.84h-1.8zM439.3 327.5h3.7v1.84h-3.7zM195.9 329.4h1.8v1.84h-1.8zM369.3 329.4h1.8v1.84h-1.8zM431.9 329.4h1.8v1.84h-1.8zM439.3 329.4h3.7v1.84h-3.7zM195.9 331.2h1.8v1.84h-1.8zM430.1 331.2h3.7v1.84h-3.7zM439.3 331.2h3.7v1.84h-3.7zM267.9 333.1h3.7v1.84h-3.7zM435.6 333.1h1.8v1.84h-1.8zM439.3 333.1h3.7v1.84h-3.7zM435.6 334.9h3.7v1.84h-3.7zM435.6 336.8h1.8v1.84h-1.8zM402.4 338.6h1.8v1.84h-1.8zM306.6 344.1h1.8v1.84h-1.8zM313.9 344.1h1.8v1.84h-1.8zM323.2 344.1h1.8v1.84h-1.8zM420.9 351.5h1.8v1.84h-1.8zM420.9 353.3h3.7v1.84h-3.7zM527.8 353.3h1.8v1.84h-1.8zM229.1 355.2h1.8v1.84h-1.8zM402.4 357.0h1.8v1.84h-1.8zM424.6 357.0h1.8v1.84h-1.8zM450.4 357.0h1.8v1.84h-1.8zM496.5 357.0h1.8v1.84h-1.8zM378.5 358.8h3.7v1.84h-3.7zM400.6 358.8h3.7v1.84h-3.7zM435.6 358.8h1.8v1.84h-1.8zM509.4 358.8h3.7v1.84h-3.7zM526.0 358.8h1.8v1.84h-1.8zM336.1 360.7h1.8v1.84h-1.8zM509.4 360.7h1.8v1.84h-1.8zM526.0 360.7h1.8v1.84h-1.8zM336.1 362.5h1.8v1.84h-1.8zM396.9 362.5h1.8v1.84h-1.8zM343.4 364.4h1.8v1.84h-1.8zM426.4 364.4h1.8v1.84h-1.8zM433.8 366.2h1.8v1.84h-1.8zM455.9 366.2h1.8v1.84h-1.8zM570.2 366.2h1.8v1.84h-1.8zM297.4 368.0h1.8v1.84h-1.8zM570.2 368.0h3.7v1.84h-3.7zM310.3 369.9h1.8v1.84h-1.8zM426.4 371.7h1.8v1.84h-1.8zM564.7 371.7h1.8v1.84h-1.8zM312.1 375.4h1.8v1.84h-1.8zM358.2 375.4h1.8v1.84h-1.8zM406.1 375.4h1.8v1.84h-1.8zM420.9 375.4h1.8v1.84h-1.8zM310.3 377.2h3.7v1.84h-3.7zM478.0 377.2h3.7v1.84h-3.7zM363.7 379.1h1.8v1.84h-1.8zM409.8 379.1h1.8v1.84h-1.8zM426.4 379.1h1.8v1.84h-1.8zM566.5 379.1h5.5v1.84h-5.5zM363.7 380.9h1.8v1.84h-1.8zM566.5 380.9h3.7v1.84h-3.7zM341.6 382.8h1.8v1.84h-1.8zM301.0 384.6h1.8v1.84h-1.8zM352.7 384.6h3.7v1.84h-3.7zM317.6 386.4h1.8v1.84h-1.8zM514.9 386.4h3.7v1.84h-3.7zM516.8 388.3h1.8v1.84h-1.8zM371.1 390.1h3.7v1.84h-3.7zM376.6 390.1h1.8v1.84h-1.8zM463.3 392.0h1.8v1.84h-1.8zM526.0 395.6h1.8v1.84h-1.8zM492.8 397.5h1.8v1.84h-1.8zM524.1 397.5h1.8v1.84h-1.8zM490.9 399.3h3.7v1.84h-3.7zM245.7 401.2h1.8v1.84h-1.8zM306.6 401.2h1.8v1.84h-1.8zM245.7 403.0h1.8v1.84h-1.8zM581.3 408.5h1.8v1.84h-1.8zM583.1 410.4h1.8v1.84h-1.8zM269.7 412.2h1.8v1.84h-1.8zM509.4 412.2h1.8v1.84h-1.8zM581.3 415.9h1.8v1.84h-1.8zM581.3 417.7h1.8v1.84h-1.8zM513.1 419.6h1.8v1.84h-1.8zM197.8 425.1h1.8v1.84h-1.8zM454.1 425.1h3.7v1.84h-3.7zM197.8 426.9h1.8v1.84h-1.8zM479.9 426.9h5.5v1.84h-5.5zM573.9 426.9h1.8v1.84h-1.8zM481.7 428.8h3.7v1.84h-3.7zM573.9 428.8h3.7v1.84h-3.7zM258.6 430.6h1.8v1.84h-1.8zM334.2 430.6h1.8v1.84h-1.8zM435.6 430.6h3.7v1.84h-3.7zM492.8 430.6h1.8v1.84h-1.8zM573.9 430.6h3.7v1.84h-3.7zM336.1 432.5h1.8v1.84h-1.8zM426.4 432.5h1.8v1.84h-1.8zM435.6 432.5h3.7v1.84h-3.7zM490.9 432.5h3.7v1.84h-3.7zM573.9 432.5h3.7v1.84h-3.7zM197.8 434.3h1.8v1.84h-1.8zM254.9 434.3h1.8v1.84h-1.8zM266.0 434.3h1.8v1.84h-1.8zM426.4 434.3h1.8v1.84h-1.8zM435.6 434.3h1.8v1.84h-1.8zM197.8 436.1h1.8v1.84h-1.8zM254.9 436.1h1.8v1.84h-1.8zM282.6 436.1h1.8v1.84h-1.8zM467.0 436.1h3.7v1.84h-3.7zM424.6 438.0h1.8v1.84h-1.8zM435.6 438.0h1.8v1.84h-1.8zM467.0 438.0h3.7v1.84h-3.7zM422.7 439.8h7.4v1.84h-7.4zM431.9 439.8h5.5v1.84h-5.5zM487.3 439.8h1.8v1.84h-1.8zM280.8 441.7h3.7v1.84h-3.7zM419.0 441.7h18.4v1.84h-18.4zM417.2 443.5h20.3v1.84h-20.3zM489.1 443.5h1.8v1.84h-1.8zM417.2 445.3h20.3v1.84h-20.3zM415.4 447.2h1.8v1.84h-1.8zM420.9 447.2h12.9v1.84h-12.9zM533.4 447.2h1.8v1.84h-1.8zM548.1 447.2h1.8v1.84h-1.8zM313.9 449.0h3.7v1.84h-3.7zM422.7 449.0h1.8v1.84h-1.8zM428.3 449.0h1.8v1.84h-1.8zM454.1 449.0h1.8v1.84h-1.8zM514.9 449.0h1.8v1.84h-1.8zM260.5 452.7h3.7v1.84h-3.7zM431.9 452.7h3.7v1.84h-3.7zM485.4 452.7h1.8v1.84h-1.8zM503.9 452.7h1.8v1.84h-1.8zM433.8 454.6h1.8v1.84h-1.8zM465.1 454.6h3.7v1.84h-3.7zM511.2 454.6h1.8v1.84h-1.8zM426.4 456.4h1.8v1.84h-1.8zM431.9 456.4h7.4v1.84h-7.4zM291.8 458.2h1.8v1.84h-1.8zM430.1 458.2h5.5v1.84h-5.5zM290.0 460.1h3.7v1.84h-3.7zM426.4 460.1h3.7v1.84h-3.7zM431.9 460.1h3.7v1.84h-3.7zM266.0 461.9h1.8v1.84h-1.8zM290.0 461.9h3.7v1.84h-3.7zM426.4 461.9h5.5v1.84h-5.5zM437.5 461.9h1.8v1.84h-1.8zM479.9 461.9h1.8v1.84h-1.8zM485.4 461.9h1.8v1.84h-1.8zM428.3 463.8h1.8v1.84h-1.8zM435.6 463.8h3.7v1.84h-3.7zM476.2 463.8h1.8v1.84h-1.8zM253.1 465.6h1.8v1.84h-1.8zM291.8 465.6h1.8v1.84h-1.8zM426.4 465.6h1.8v1.84h-1.8zM478.0 465.6h3.7v1.84h-3.7zM251.3 467.4h3.7v1.84h-3.7zM291.8 467.4h3.7v1.84h-3.7zM428.3 467.4h1.8v1.84h-1.8zM478.0 467.4h3.7v1.84h-3.7zM483.6 467.4h3.7v1.84h-3.7zM408.0 469.3h3.7v1.84h-3.7zM430.1 469.3h1.8v1.84h-1.8zM406.1 471.1h5.5v1.84h-5.5zM430.1 471.1h1.8v1.84h-1.8zM494.6 471.1h1.8v1.84h-1.8zM509.4 471.1h1.8v1.84h-1.8zM406.1 473.0h5.5v1.84h-5.5zM454.1 473.0h1.8v1.84h-1.8zM494.6 473.0h3.7v1.84h-3.7zM503.9 473.0h9.2v1.84h-9.2zM254.9 474.8h5.5v1.84h-5.5zM406.1 474.8h7.4v1.84h-7.4zM490.9 474.8h3.7v1.84h-3.7zM505.7 474.8h9.2v1.84h-9.2zM256.8 476.6h3.7v1.84h-3.7zM507.5 476.6h7.4v1.84h-7.4zM538.9 476.6h1.8v1.84h-1.8zM367.4 478.5h1.8v1.84h-1.8zM402.4 478.5h5.5v1.84h-5.5zM433.8 478.5h1.8v1.84h-1.8zM507.5 478.5h7.4v1.84h-7.4zM522.3 478.5h1.8v1.84h-1.8zM249.4 480.3h1.8v1.84h-1.8zM367.4 480.3h1.8v1.84h-1.8zM513.1 480.3h1.8v1.84h-1.8zM363.7 485.8h1.8v1.84h-1.8zM304.7 489.5h1.8v1.84h-1.8zM332.4 489.5h1.8v1.84h-1.8zM365.6 489.5h5.5v1.84h-5.5zM376.6 489.5h3.7v1.84h-3.7zM304.7 491.4h1.8v1.84h-1.8zM330.5 491.4h3.7v1.84h-3.7zM345.3 491.4h3.7v1.84h-3.7zM336.1 493.2h16.6v1.84h-16.6zM361.9 493.2h1.8v1.84h-1.8zM371.1 493.2h3.7v1.84h-3.7zM396.9 493.2h3.7v1.84h-3.7zM408.0 493.2h3.7v1.84h-3.7zM336.1 495.0h16.6v1.84h-16.6zM361.9 495.0h1.8v1.84h-1.8zM369.3 495.0h5.5v1.84h-5.5zM398.8 495.0h1.8v1.84h-1.8zM406.1 495.0h3.7v1.84h-3.7zM479.9 495.0h1.8v1.84h-1.8zM266.0 496.9h3.7v1.84h-3.7zM282.6 496.9h1.8v1.84h-1.8zM337.9 496.9h7.4v1.84h-7.4zM347.1 496.9h3.7v1.84h-3.7zM361.9 496.9h1.8v1.84h-1.8zM371.1 496.9h1.8v1.84h-1.8zM404.3 496.9h3.7v1.84h-3.7zM463.3 496.9h1.8v1.84h-1.8zM280.8 498.7h1.8v1.84h-1.8zM339.8 498.7h3.7v1.84h-3.7zM358.2 498.7h3.7v1.84h-3.7zM406.1 498.7h1.8v1.84h-1.8zM271.5 500.6h1.8v1.84h-1.8zM360.0 500.6h1.8v1.84h-1.8zM363.7 500.6h1.8v1.84h-1.8zM367.4 500.6h1.8v1.84h-1.8zM402.4 500.6h3.7v1.84h-3.7zM277.1 502.4h1.8v1.84h-1.8zM330.5 502.4h1.8v1.84h-1.8zM361.9 502.4h7.4v1.84h-7.4zM402.4 502.4h3.7v1.84h-3.7zM264.2 504.2h1.8v1.84h-1.8zM277.1 504.2h1.8v1.84h-1.8zM328.7 504.2h3.7v1.84h-3.7zM393.2 504.2h1.8v1.84h-1.8zM402.4 504.2h3.7v1.84h-3.7zM262.3 506.1h1.8v1.84h-1.8zM393.2 506.1h1.8v1.84h-1.8zM400.6 506.1h3.7v1.84h-3.7zM468.8 506.1h3.7v1.84h-3.7zM400.6 507.9h1.8v1.84h-1.8zM395.1 509.8h3.7v1.84h-3.7z"/></g>
<path d="M171.30 632.2v7.8M171.30 159.1v-7.8M148.9 611.36h-7.8M622.8 611.36h7.8M278.58 632.2v7.8M278.58 159.1v-7.8M148.9 503.50h-7.8M622.8 503.50h7.8M385.85 632.2v7.8M385.85 159.1v-7.8M148.9 395.65h-7.8M622.8 395.65h7.8M493.12 632.2v7.8M493.12 159.1v-7.8M148.9 287.79h-7.8M622.8 287.79h7.8M600.40 632.2v7.8M600.40 159.1v-7.8M148.9 179.94h-7.8M622.8 179.94h7.8" stroke="#000" stroke-width="2.1" fill="none"/>
<text x="169.80" y="670.30" font-size="25.8" text-anchor="middle">−1000</text>
<text x="131.60" y="621.36" font-size="25.8" text-anchor="end">−1000</text>
<text x="277.68" y="670.30" font-size="25.8" text-anchor="middle">−500</text>
<text x="131.60" y="513.50" font-size="25.8" text-anchor="end">−500</text>
<text x="385.85" y="670.30" font-size="25.8" text-anchor="middle">0</text>
<text x="131.60" y="405.65" font-size="25.8" text-anchor="end">0</text>
<text x="493.12" y="670.30" font-size="25.8" text-anchor="middle">500</text>
<text x="131.60" y="297.79" font-size="25.8" text-anchor="end">500</text>
<text x="600.40" y="670.30" font-size="25.8" text-anchor="middle">1000</text>
<text x="131.60" y="189.94" font-size="25.8" text-anchor="end">1000</text>
<text x="385.85" y="710.60" font-size="31.4" text-anchor="middle">Solar-X [arcsec]</text>
<text x="94.76" y="112.40" font-size="36.5">(a)</text>
<text transform="translate(385.10 90.20) scale(1.033 1.0)" font-size="35.3" text-anchor="middle">SDO/HMI magnetogram</text>
<text font-size="35.3" xml:space="preserve"><tspan x="321.56 335" y="133.6">( </tspan><tspan x="347.05" y="133.6" font-style="italic">M</tspan><tspan x="377.65" y="139.3" font-size="26.88" font-style="italic" textLength="48.90" lengthAdjust="spacingAndGlyphs">HMI</tspan><tspan x="430 439.97" y="133.6"> )</tspan></text>
<path d="M296.53 247.90H475.17M238.90 305.85V485.45M267.14 277.45H504.56M268.29 276.30V515.00M237.75 307.00H533.95M297.68 246.75V544.55M237.75 336.55H533.95M327.07 246.75V544.55M237.75 366.10H533.95M356.46 246.75V544.55M237.75 395.65H533.95M385.85 246.75V544.55M237.75 425.20H533.95M415.24 246.75V544.55M237.75 454.75H533.95M444.63 246.75V544.55M237.75 484.30H533.95M474.02 246.75V544.55M267.14 513.85H504.56M503.41 276.30V515.00M296.53 543.40H475.17M532.80 305.85V485.45" stroke="#9acd32" stroke-width="2.6" fill="none"/>
<rect x="268.99" y="278.45" width="58.78" height="58.80" fill="none" stroke="#0000ff" stroke-width="3.9" stroke-linejoin="round"/>
<rect x="239.60" y="366.30" width="58.78" height="58.80" fill="none" stroke="#0000ff" stroke-width="3.9" stroke-linejoin="round"/>
<rect x="415.94" y="307.20" width="58.78" height="58.80" fill="none" stroke="#ff0000" stroke-width="3.9" stroke-linejoin="round"/>
<rect x="386.55" y="425.40" width="58.78" height="58.80" fill="none" stroke="#ff0000" stroke-width="3.9" stroke-linejoin="round"/>
<rect x="298.38" y="454.95" width="58.78" height="58.80" fill="none" stroke="#ff0000" stroke-width="3.9" stroke-linejoin="round"/>
<rect x="170.90" y="764.45" width="429.66" height="18.5" fill="url(#g1)" stroke="#000" stroke-width="2.1"/>
<path d="M170.90 783.7v7.8M278.31 783.7v7.8M385.73 783.7v7.8M493.14 783.7v7.8M600.56 783.7v7.8" stroke="#000" stroke-width="2.1" fill="none"/>
<text x="170.90" y="821.60" font-size="25.8" text-anchor="middle">−100</text>
<text x="278.31" y="821.60" font-size="25.8" text-anchor="middle">−50</text>
<text x="385.73" y="821.60" font-size="25.8" text-anchor="middle">0</text>
<text x="493.14" y="821.60" font-size="25.8" text-anchor="middle">50</text>
<text x="600.56" y="821.60" font-size="25.8" text-anchor="middle">100</text>
<text x="385.85" y="856.60" font-size="26.0" text-anchor="middle">LOS Magnetic Field [Gauss]</text>
</g>
<g id="panel1">
<rect x="714.45" y="159.1" width="472.55" height="473.10" fill="#000"/>
<ellipse cx="951.5" cy="395.65" rx="205.8" ry="205.9" fill="#808080"/>
<rect x="715.4" y="160.05" width="470.65" height="471.20" filter="url(#nz1)" clip-path="url(#dk1)"/><g filter="url(#sb)" clip-path="url(#dk1)"><path fill="#000" d="M914.0 248.4h1.8v1.84h-1.8zM996.7 252.1h1.8v1.84h-1.8zM895.6 253.9h1.8v1.84h-1.8zM886.4 257.6h1.8v1.84h-1.8zM1083.1 259.4h1.8v1.84h-1.8zM851.4 261.3h3.7v1.84h-3.7zM901.1 263.1h3.7v1.84h-3.7zM1077.6 263.1h1.8v1.84h-1.8zM963.6 265.0h1.8v1.84h-1.8zM937.9 266.8h1.8v1.84h-1.8zM934.2 268.6h1.8v1.84h-1.8zM989.3 281.5h1.8v1.84h-1.8zM1020.6 281.5h1.8v1.84h-1.8zM982.0 283.4h1.8v1.84h-1.8zM1020.6 283.4h3.7v1.84h-3.7zM1020.6 285.2h3.7v1.84h-3.7zM936.0 287.1h1.8v1.84h-1.8zM1020.6 287.1h3.7v1.84h-3.7zM963.6 288.9h1.8v1.84h-1.8zM921.3 290.7h1.8v1.84h-1.8zM963.6 290.7h1.8v1.84h-1.8zM982.0 292.6h1.8v1.84h-1.8zM934.2 294.4h1.8v1.84h-1.8zM952.6 294.4h3.7v1.84h-3.7zM934.2 296.3h3.7v1.84h-3.7zM952.6 296.3h1.8v1.84h-1.8zM1026.1 296.3h1.8v1.84h-1.8zM888.2 298.1h1.8v1.84h-1.8zM908.4 298.1h1.8v1.84h-1.8zM934.2 298.1h1.8v1.84h-1.8zM1026.1 298.1h3.7v1.84h-3.7zM1033.5 298.1h3.7v1.84h-3.7zM994.8 299.9h1.8v1.84h-1.8zM1035.3 299.9h1.8v1.84h-1.8zM1048.2 305.5h1.8v1.84h-1.8zM777.9 314.7h3.7v1.84h-3.7zM1055.5 314.7h1.8v1.84h-1.8zM777.9 316.5h3.7v1.84h-3.7zM1055.5 316.5h3.7v1.84h-3.7zM1042.6 318.3h1.8v1.84h-1.8zM1055.5 318.3h7.4v1.84h-7.4zM1059.2 323.9h1.8v1.84h-1.8zM1022.4 325.7h9.2v1.84h-9.2zM1125.4 325.7h3.7v1.84h-3.7zM772.4 327.5h1.8v1.84h-1.8zM1015.1 327.5h1.8v1.84h-1.8zM1020.6 327.5h9.2v1.84h-9.2zM1107.0 327.5h1.8v1.84h-1.8zM770.6 329.4h5.5v1.84h-5.5zM1015.1 329.4h1.8v1.84h-1.8zM1018.7 329.4h9.2v1.84h-9.2zM770.6 331.2h3.7v1.84h-3.7zM1015.1 331.2h12.9v1.84h-12.9zM772.4 333.1h1.8v1.84h-1.8zM1018.7 333.1h7.4v1.84h-7.4zM1027.9 333.1h3.7v1.84h-3.7zM768.7 334.9h1.8v1.84h-1.8zM1022.4 334.9h1.8v1.84h-1.8zM952.6 355.2h3.7v1.84h-3.7zM1140.1 362.5h3.7v1.84h-3.7zM1140.1 364.4h3.7v1.84h-3.7zM1138.2 371.7h1.8v1.84h-1.8zM1136.4 373.6h5.5v1.84h-5.5zM1136.4 375.4h5.5v1.84h-5.5zM1138.2 377.2h3.7v1.84h-3.7zM1035.3 382.8h3.7v1.84h-3.7zM1013.2 384.6h1.8v1.84h-1.8zM1134.6 386.4h1.8v1.84h-1.8zM1061.0 390.1h1.8v1.84h-1.8zM1004.0 392.0h1.8v1.84h-1.8zM873.5 393.8h1.8v1.84h-1.8zM993.0 395.6h1.8v1.84h-1.8zM1020.6 395.6h1.8v1.84h-1.8zM993.0 397.5h1.8v1.84h-1.8zM1092.3 397.5h1.8v1.84h-1.8zM877.2 399.3h1.8v1.84h-1.8zM877.2 401.2h1.8v1.84h-1.8zM996.7 401.2h1.8v1.84h-1.8zM1013.2 401.2h1.8v1.84h-1.8zM1101.5 401.2h1.8v1.84h-1.8zM923.1 403.0h1.8v1.84h-1.8zM1118.0 412.2h3.7v1.84h-3.7zM1094.1 414.1h1.8v1.84h-1.8zM958.1 415.9h1.8v1.84h-1.8zM1094.1 415.9h1.8v1.84h-1.8zM1129.1 415.9h1.8v1.84h-1.8zM989.3 417.7h1.8v1.84h-1.8zM932.3 421.4h1.8v1.84h-1.8zM757.7 426.9h1.8v1.84h-1.8zM757.7 428.8h1.8v1.84h-1.8zM901.1 430.6h1.8v1.84h-1.8zM1134.6 430.6h1.8v1.84h-1.8zM1132.7 432.5h3.7v1.84h-3.7zM1134.6 434.3h1.8v1.84h-1.8zM1134.6 436.1h1.8v1.84h-1.8zM888.2 438.0h1.8v1.84h-1.8zM886.4 439.8h1.8v1.84h-1.8zM941.5 439.8h1.8v1.84h-1.8zM873.5 441.7h1.8v1.84h-1.8zM941.5 441.7h1.8v1.84h-1.8zM972.8 441.7h3.7v1.84h-3.7zM967.3 443.5h9.2v1.84h-9.2zM963.6 445.3h1.8v1.84h-1.8zM967.3 445.3h7.4v1.84h-7.4zM963.6 447.2h16.5v1.84h-16.5zM893.7 449.0h1.8v1.84h-1.8zM963.6 449.0h1.8v1.84h-1.8zM967.3 449.0h7.4v1.84h-7.4zM978.3 449.0h1.8v1.84h-1.8zM945.2 450.9h3.7v1.84h-3.7zM969.1 450.9h5.5v1.84h-5.5zM945.2 452.7h3.7v1.84h-3.7zM969.1 452.7h1.8v1.84h-1.8zM978.3 452.7h1.8v1.84h-1.8zM959.9 454.6h1.8v1.84h-1.8zM980.1 454.6h3.7v1.84h-3.7zM978.3 456.4h7.4v1.84h-7.4zM974.6 458.2h1.8v1.84h-1.8zM978.3 458.2h5.5v1.84h-5.5zM961.8 460.1h3.7v1.84h-3.7zM972.8 460.1h5.5v1.84h-5.5zM838.6 461.9h1.8v1.84h-1.8zM902.9 461.9h3.7v1.84h-3.7zM959.9 461.9h7.4v1.84h-7.4zM976.5 461.9h1.8v1.84h-1.8zM844.1 463.8h3.7v1.84h-3.7zM943.4 463.8h1.8v1.84h-1.8zM956.2 463.8h5.5v1.84h-5.5zM963.6 463.8h9.2v1.84h-9.2zM908.4 465.6h3.7v1.84h-3.7zM941.5 465.6h3.7v1.84h-3.7zM956.2 465.6h1.8v1.84h-1.8zM959.9 465.6h1.8v1.84h-1.8zM963.6 465.6h9.2v1.84h-9.2zM910.3 467.4h1.8v1.84h-1.8zM958.1 467.4h1.8v1.84h-1.8zM967.3 467.4h3.7v1.84h-3.7zM886.4 469.3h1.8v1.84h-1.8zM895.6 469.3h1.8v1.84h-1.8zM958.1 469.3h3.7v1.84h-3.7zM845.9 471.1h1.8v1.84h-1.8zM842.3 474.8h1.8v1.84h-1.8zM1070.2 474.8h1.8v1.84h-1.8zM897.4 476.6h1.8v1.84h-1.8zM1068.4 476.6h3.7v1.84h-3.7zM897.4 478.5h3.7v1.84h-3.7zM1064.7 478.5h3.7v1.84h-3.7zM800.0 480.3h1.8v1.84h-1.8zM897.4 480.3h3.7v1.84h-3.7zM800.0 482.2h1.8v1.84h-1.8zM895.6 482.2h11.0v1.84h-11.0zM811.0 484.0h1.8v1.84h-1.8zM895.6 484.0h9.2v1.84h-9.2zM908.4 484.0h1.8v1.84h-1.8zM914.0 484.0h1.8v1.84h-1.8zM809.2 485.8h3.7v1.84h-3.7zM897.4 485.8h5.5v1.84h-5.5zM908.4 485.8h9.2v1.84h-9.2zM809.2 487.7h3.7v1.84h-3.7zM879.0 487.7h1.8v1.84h-1.8zM888.2 487.7h1.8v1.84h-1.8zM902.9 487.7h11.0v1.84h-11.0zM886.4 489.5h1.8v1.84h-1.8zM890.1 489.5h1.8v1.84h-1.8zM879.0 491.4h12.9v1.84h-12.9zM915.8 491.4h1.8v1.84h-1.8zM879.0 493.2h14.7v1.84h-14.7zM915.8 493.2h1.8v1.84h-1.8zM879.0 495.0h14.7v1.84h-14.7zM954.4 495.0h1.8v1.84h-1.8zM879.0 496.9h3.7v1.84h-3.7zM886.4 496.9h1.8v1.84h-1.8zM890.1 496.9h3.7v1.84h-3.7zM952.6 496.9h3.7v1.84h-3.7zM952.6 498.7h3.7v1.84h-3.7zM1011.4 498.7h3.7v1.84h-3.7zM954.4 500.6h1.8v1.84h-1.8zM880.9 506.1h9.2v1.84h-9.2zM1016.9 506.1h1.8v1.84h-1.8zM1064.7 506.1h1.8v1.84h-1.8zM1016.9 507.9h1.8v1.84h-1.8zM1020.6 507.9h3.7v1.84h-3.7zM1029.8 511.6h1.8v1.84h-1.8zM914.0 515.3h1.8v1.84h-1.8zM1013.2 515.3h1.8v1.84h-1.8zM914.0 517.1h3.7v1.84h-3.7zM928.7 517.1h1.8v1.84h-1.8zM1013.2 517.1h3.7v1.84h-3.7zM970.9 519.0h3.7v1.84h-3.7zM888.2 520.8h3.7v1.84h-3.7zM970.9 520.8h3.7v1.84h-3.7zM1009.6 522.7h1.8v1.84h-1.8zM925.0 524.5h1.8v1.84h-1.8zM959.9 531.9h1.8v1.84h-1.8zM983.8 535.5h1.8v1.84h-1.8zM934.2 539.2h1.8v1.84h-1.8zM934.2 541.1h1.8v1.84h-1.8zM1005.9 553.9h1.8v1.84h-1.8z"/><path fill="#303030" d="M1033.5 241.0h3.7v1.84h-3.7zM912.1 248.4h1.8v1.84h-1.8zM895.6 252.1h1.8v1.84h-1.8zM937.9 253.9h1.8v1.84h-1.8zM1084.9 259.4h1.8v1.84h-1.8zM983.8 261.3h1.8v1.84h-1.8zM1044.5 263.1h1.8v1.84h-1.8zM925.0 265.0h1.8v1.84h-1.8zM1040.8 265.0h1.8v1.84h-1.8zM936.0 266.8h1.8v1.84h-1.8zM1029.8 266.8h1.8v1.84h-1.8zM836.7 270.5h1.8v1.84h-1.8zM873.5 270.5h1.8v1.84h-1.8zM871.7 274.2h1.8v1.84h-1.8zM1072.1 274.2h1.8v1.84h-1.8zM871.7 276.0h1.8v1.84h-1.8zM1072.1 276.0h1.8v1.84h-1.8zM871.7 277.9h1.8v1.84h-1.8zM994.8 281.5h1.8v1.84h-1.8zM1029.8 283.4h1.8v1.84h-1.8zM921.3 288.9h1.8v1.84h-1.8zM961.8 290.7h1.8v1.84h-1.8zM978.3 290.7h1.8v1.84h-1.8zM849.6 294.4h1.8v1.84h-1.8zM886.4 298.1h1.8v1.84h-1.8zM910.3 298.1h1.8v1.84h-1.8zM958.1 298.1h1.8v1.84h-1.8zM1057.4 298.1h1.8v1.84h-1.8zM958.1 299.9h1.8v1.84h-1.8zM1040.8 307.3h1.8v1.84h-1.8zM1020.6 325.7h1.8v1.84h-1.8zM1016.9 329.4h1.8v1.84h-1.8zM1027.9 329.4h1.8v1.84h-1.8zM1027.9 331.2h1.8v1.84h-1.8zM1020.6 334.9h1.8v1.84h-1.8zM1026.1 334.9h1.8v1.84h-1.8zM768.7 336.8h1.8v1.84h-1.8zM807.3 357.0h1.8v1.84h-1.8zM1140.1 366.2h1.8v1.84h-1.8zM814.7 369.9h1.8v1.84h-1.8zM961.8 371.7h1.8v1.84h-1.8zM1141.9 375.4h1.8v1.84h-1.8zM958.1 377.2h1.8v1.84h-1.8zM1140.1 382.8h1.8v1.84h-1.8zM790.8 384.6h1.8v1.84h-1.8zM1011.4 384.6h1.8v1.84h-1.8zM1141.9 384.6h1.8v1.84h-1.8zM1061.0 388.3h1.8v1.84h-1.8zM1059.2 390.1h1.8v1.84h-1.8zM1002.2 392.0h1.8v1.84h-1.8zM1084.9 392.0h1.8v1.84h-1.8zM1084.9 393.8h1.8v1.84h-1.8zM873.5 395.6h1.8v1.84h-1.8zM1057.4 395.6h1.8v1.84h-1.8zM792.6 397.5h1.8v1.84h-1.8zM970.9 397.5h1.8v1.84h-1.8zM1090.4 397.5h1.8v1.84h-1.8zM879.0 399.3h1.8v1.84h-1.8zM1090.4 399.3h3.7v1.84h-3.7zM879.0 401.2h1.8v1.84h-1.8zM1011.4 401.2h1.8v1.84h-1.8zM996.7 403.0h1.8v1.84h-1.8zM958.1 414.1h1.8v1.84h-1.8zM1118.0 414.1h1.8v1.84h-1.8zM838.6 417.7h1.8v1.84h-1.8zM989.3 419.6h1.8v1.84h-1.8zM757.7 430.6h1.8v1.84h-1.8zM1132.7 430.6h1.8v1.84h-1.8zM926.8 432.5h1.8v1.84h-1.8zM926.8 434.3h1.8v1.84h-1.8zM1132.7 434.3h1.8v1.84h-1.8zM886.4 438.0h1.8v1.84h-1.8zM902.9 438.0h1.8v1.84h-1.8zM888.2 439.8h1.8v1.84h-1.8zM972.8 439.8h1.8v1.84h-1.8zM875.3 441.7h1.8v1.84h-1.8zM976.5 443.5h1.8v1.84h-1.8zM965.4 445.3h1.8v1.84h-1.8zM974.6 445.3h1.8v1.84h-1.8zM978.3 445.3h1.8v1.84h-1.8zM965.4 449.0h1.8v1.84h-1.8zM974.6 449.0h1.8v1.84h-1.8zM814.7 450.9h1.8v1.84h-1.8zM893.7 450.9h1.8v1.84h-1.8zM963.6 450.9h1.8v1.84h-1.8zM967.3 450.9h1.8v1.84h-1.8zM974.6 450.9h1.8v1.84h-1.8zM980.1 450.9h1.8v1.84h-1.8zM965.4 452.7h3.7v1.84h-3.7zM970.9 452.7h5.5v1.84h-5.5zM980.1 452.7h3.7v1.84h-3.7zM945.2 454.6h1.8v1.84h-1.8zM967.3 454.6h1.8v1.84h-1.8zM978.3 454.6h1.8v1.84h-1.8zM983.8 454.6h1.8v1.84h-1.8zM976.5 458.2h1.8v1.84h-1.8zM978.3 460.1h1.8v1.84h-1.8zM974.6 461.9h1.8v1.84h-1.8zM941.5 463.8h1.8v1.84h-1.8zM958.1 465.6h1.8v1.84h-1.8zM954.4 467.4h3.7v1.84h-3.7zM959.9 467.4h1.8v1.84h-1.8zM963.6 467.4h3.7v1.84h-3.7zM970.9 467.4h1.8v1.84h-1.8zM956.2 469.3h1.8v1.84h-1.8zM886.4 471.1h1.8v1.84h-1.8zM959.9 471.1h1.8v1.84h-1.8zM1062.9 473.0h1.8v1.84h-1.8zM842.3 476.6h1.8v1.84h-1.8zM798.1 480.3h1.8v1.84h-1.8zM902.9 480.3h1.8v1.84h-1.8zM1064.7 480.3h1.8v1.84h-1.8zM798.1 482.2h1.8v1.84h-1.8zM890.1 482.2h1.8v1.84h-1.8zM1051.8 482.2h1.8v1.84h-1.8zM809.2 484.0h1.8v1.84h-1.8zM893.7 484.0h1.8v1.84h-1.8zM910.3 484.0h1.8v1.84h-1.8zM880.9 485.8h1.8v1.84h-1.8zM899.2 487.7h1.8v1.84h-1.8zM1039.0 487.7h1.8v1.84h-1.8zM888.2 489.5h1.8v1.84h-1.8zM891.9 491.4h1.8v1.84h-1.8zM952.6 493.2h1.8v1.84h-1.8zM877.2 495.0h1.8v1.84h-1.8zM952.6 495.0h1.8v1.84h-1.8zM884.5 498.7h3.7v1.84h-3.7zM891.9 498.7h1.8v1.84h-1.8zM1064.7 498.7h1.8v1.84h-1.8zM1013.2 500.6h1.8v1.84h-1.8zM1072.1 502.4h1.8v1.84h-1.8zM882.7 504.2h1.8v1.84h-1.8zM886.4 504.2h1.8v1.84h-1.8zM890.1 506.1h1.8v1.84h-1.8zM1029.8 509.8h3.7v1.84h-3.7zM1000.4 511.6h1.8v1.84h-1.8zM1055.5 511.6h1.8v1.84h-1.8zM963.6 515.3h3.7v1.84h-3.7zM1015.1 515.3h1.8v1.84h-1.8zM1011.4 517.1h1.8v1.84h-1.8zM1016.9 517.1h1.8v1.84h-1.8zM934.2 519.0h1.8v1.84h-1.8zM919.5 522.7h1.8v1.84h-1.8zM970.9 522.7h3.7v1.84h-3.7zM1015.1 524.5h1.8v1.84h-1.8zM899.2 526.3h1.8v1.84h-1.8zM925.0 526.3h1.8v1.84h-1.8zM908.4 528.2h1.8v1.84h-1.8zM939.7 530.0h1.8v1.84h-1.8zM959.9 530.0h1.8v1.84h-1.8zM1083.1 531.9h1.8v1.84h-1.8zM1022.4 537.4h1.8v1.84h-1.8zM1005.9 539.2h1.8v1.84h-1.8zM910.3 544.7h1.8v1.84h-1.8zM1042.6 548.4h1.8v1.84h-1.8z"/><path fill="#555" d="M879.0 237.4h1.8v1.84h-1.8zM956.2 239.2h3.7v1.84h-3.7zM1079.4 239.2h1.8v1.84h-1.8zM925.0 241.0h1.8v1.84h-1.8zM958.1 241.0h1.8v1.84h-1.8zM976.5 246.6h1.8v1.84h-1.8zM941.5 248.4h1.8v1.84h-1.8zM912.1 250.2h1.8v1.84h-1.8zM941.5 250.2h1.8v1.84h-1.8zM978.3 250.2h1.8v1.84h-1.8zM1070.2 250.2h1.8v1.84h-1.8zM864.3 252.1h3.7v1.84h-3.7zM932.3 252.1h1.8v1.84h-1.8zM1070.2 252.1h1.8v1.84h-1.8zM893.7 253.9h1.8v1.84h-1.8zM930.5 255.8h1.8v1.84h-1.8zM967.3 255.8h1.8v1.84h-1.8zM930.5 257.6h1.8v1.84h-1.8zM886.4 259.4h1.8v1.84h-1.8zM897.4 259.4h1.8v1.84h-1.8zM959.9 259.4h3.7v1.84h-3.7zM961.8 261.3h1.8v1.84h-1.8zM982.0 261.3h1.8v1.84h-1.8zM1083.1 261.3h1.8v1.84h-1.8zM1075.7 263.1h1.8v1.84h-1.8zM886.4 265.0h1.8v1.84h-1.8zM893.7 265.0h1.8v1.84h-1.8zM891.9 266.8h1.8v1.84h-1.8zM845.9 268.6h1.8v1.84h-1.8zM937.9 268.6h1.8v1.84h-1.8zM871.7 270.5h1.8v1.84h-1.8zM934.2 270.5h1.8v1.84h-1.8zM893.7 272.3h3.7v1.84h-3.7zM831.2 274.2h3.7v1.84h-3.7zM880.9 274.2h1.8v1.84h-1.8zM917.6 274.2h1.8v1.84h-1.8zM950.7 274.2h1.8v1.84h-1.8zM1031.6 274.2h1.8v1.84h-1.8zM880.9 276.0h1.8v1.84h-1.8zM1031.6 276.0h1.8v1.84h-1.8zM893.7 279.7h3.7v1.84h-3.7zM880.9 281.5h1.8v1.84h-1.8zM982.0 281.5h1.8v1.84h-1.8zM1029.8 281.5h3.7v1.84h-3.7zM1079.4 283.4h1.8v1.84h-1.8zM978.3 285.2h1.8v1.84h-1.8zM996.7 287.1h1.8v1.84h-1.8zM961.8 288.9h1.8v1.84h-1.8zM996.7 288.9h1.8v1.84h-1.8zM926.8 290.7h3.7v1.84h-3.7zM998.5 290.7h1.8v1.84h-1.8zM926.8 292.6h1.8v1.84h-1.8zM1035.3 296.3h1.8v1.84h-1.8zM1039.0 296.3h1.8v1.84h-1.8zM917.6 298.1h1.8v1.84h-1.8zM936.0 298.1h1.8v1.84h-1.8zM1077.6 298.1h1.8v1.84h-1.8zM875.3 299.9h1.8v1.84h-1.8zM936.0 299.9h3.7v1.84h-3.7zM1077.6 299.9h1.8v1.84h-1.8zM1015.1 301.8h1.8v1.84h-1.8zM1053.7 301.8h1.8v1.84h-1.8zM1057.4 301.8h1.8v1.84h-1.8zM923.1 303.6h3.7v1.84h-3.7zM1016.9 305.5h1.8v1.84h-1.8zM1027.9 305.5h1.8v1.84h-1.8zM934.2 307.3h1.8v1.84h-1.8zM917.6 309.1h1.8v1.84h-1.8zM1031.6 309.1h1.8v1.84h-1.8zM941.5 311.0h3.7v1.84h-3.7zM897.4 312.8h3.7v1.84h-3.7zM1059.2 312.8h1.8v1.84h-1.8zM908.4 314.7h1.8v1.84h-1.8zM1059.2 314.7h1.8v1.84h-1.8zM1084.9 316.5h1.8v1.84h-1.8zM829.4 323.9h1.8v1.84h-1.8zM833.1 323.9h1.8v1.84h-1.8zM1020.6 323.9h3.7v1.84h-3.7zM1053.7 323.9h5.5v1.84h-5.5zM770.6 327.5h1.8v1.84h-1.8zM770.6 333.1h1.8v1.84h-1.8zM1016.9 333.1h1.8v1.84h-1.8zM1031.6 333.1h1.8v1.84h-1.8zM770.6 334.9h1.8v1.84h-1.8zM1018.7 334.9h1.8v1.84h-1.8zM904.8 346.0h1.8v1.84h-1.8zM1033.5 357.0h1.8v1.84h-1.8zM1044.5 357.0h1.8v1.84h-1.8zM952.6 362.5h1.8v1.84h-1.8zM1138.2 364.4h1.8v1.84h-1.8zM1141.9 366.2h1.8v1.84h-1.8zM827.5 368.0h1.8v1.84h-1.8zM864.3 371.7h1.8v1.84h-1.8zM963.6 371.7h1.8v1.84h-1.8zM914.0 379.1h1.8v1.84h-1.8zM1140.1 379.1h1.8v1.84h-1.8zM1037.1 384.6h1.8v1.84h-1.8zM901.1 388.3h1.8v1.84h-1.8zM1070.2 388.3h1.8v1.84h-1.8zM796.3 395.6h1.8v1.84h-1.8zM954.4 395.6h3.7v1.84h-3.7zM1005.9 395.6h1.8v1.84h-1.8zM1020.6 397.5h1.8v1.84h-1.8zM1011.4 403.0h1.8v1.84h-1.8zM1101.5 403.0h1.8v1.84h-1.8zM862.5 404.9h1.8v1.84h-1.8zM989.3 404.9h3.7v1.84h-3.7zM930.5 406.7h3.7v1.84h-3.7zM989.3 406.7h1.8v1.84h-1.8zM1081.3 410.4h1.8v1.84h-1.8zM1118.0 410.4h1.8v1.84h-1.8zM930.5 414.1h1.8v1.84h-1.8zM1119.9 414.1h1.8v1.84h-1.8zM838.6 415.9h3.7v1.84h-3.7zM956.2 415.9h1.8v1.84h-1.8zM976.5 417.7h1.8v1.84h-1.8zM1090.4 417.7h1.8v1.84h-1.8zM976.5 419.6h1.8v1.84h-1.8zM1062.9 426.9h1.8v1.84h-1.8zM1062.9 428.8h1.8v1.84h-1.8zM908.4 430.6h1.8v1.84h-1.8zM1059.2 432.5h1.8v1.84h-1.8zM1116.2 432.5h3.7v1.84h-3.7zM969.1 438.0h1.8v1.84h-1.8zM902.9 439.8h1.8v1.84h-1.8zM939.7 439.8h1.8v1.84h-1.8zM969.1 439.8h3.7v1.84h-3.7zM974.6 439.8h1.8v1.84h-1.8zM1134.6 439.8h1.8v1.84h-1.8zM862.5 441.7h1.8v1.84h-1.8zM969.1 441.7h1.8v1.84h-1.8zM965.4 443.5h1.8v1.84h-1.8zM897.4 445.3h3.7v1.84h-3.7zM976.5 445.3h1.8v1.84h-1.8zM814.7 449.0h1.8v1.84h-1.8zM855.1 449.0h1.8v1.84h-1.8zM945.2 449.0h1.8v1.84h-1.8zM965.4 450.9h1.8v1.84h-1.8zM976.5 450.9h1.8v1.84h-1.8zM983.8 452.7h3.7v1.84h-3.7zM969.1 454.6h1.8v1.84h-1.8zM983.8 458.2h1.8v1.84h-1.8zM910.3 463.8h1.8v1.84h-1.8zM845.9 465.6h1.8v1.84h-1.8zM954.4 465.6h1.8v1.84h-1.8zM961.8 465.6h1.8v1.84h-1.8zM820.2 478.5h1.8v1.84h-1.8zM901.1 480.3h1.8v1.84h-1.8zM893.7 482.2h1.8v1.84h-1.8zM908.4 482.2h1.8v1.84h-1.8zM915.8 482.2h1.8v1.84h-1.8zM904.8 484.0h1.8v1.84h-1.8zM877.2 485.8h1.8v1.84h-1.8zM904.8 485.8h3.7v1.84h-3.7zM1037.1 487.7h1.8v1.84h-1.8zM811.0 489.5h1.8v1.84h-1.8zM882.7 489.5h1.8v1.84h-1.8zM891.9 489.5h1.8v1.84h-1.8zM877.2 491.4h1.8v1.84h-1.8zM893.7 491.4h1.8v1.84h-1.8zM917.6 491.4h1.8v1.84h-1.8zM954.4 491.4h1.8v1.84h-1.8zM954.4 493.2h1.8v1.84h-1.8zM882.7 496.9h1.8v1.84h-1.8zM888.2 496.9h1.8v1.84h-1.8zM893.7 496.9h1.8v1.84h-1.8zM879.0 498.7h3.7v1.84h-3.7zM890.1 498.7h1.8v1.84h-1.8zM967.3 498.7h1.8v1.84h-1.8zM1027.9 498.7h1.8v1.84h-1.8zM1066.5 498.7h1.8v1.84h-1.8zM1035.3 500.6h1.8v1.84h-1.8zM1042.6 500.6h1.8v1.84h-1.8zM954.4 502.4h1.8v1.84h-1.8zM1027.9 502.4h1.8v1.84h-1.8zM884.5 504.2h1.8v1.84h-1.8zM1015.1 506.1h1.8v1.84h-1.8zM1024.3 507.9h1.8v1.84h-1.8zM853.3 509.8h1.8v1.84h-1.8zM996.7 509.8h1.8v1.84h-1.8zM1027.9 511.6h1.8v1.84h-1.8zM936.0 515.3h3.7v1.84h-3.7zM1066.5 517.1h1.8v1.84h-1.8zM980.1 519.0h1.8v1.84h-1.8zM1044.5 519.0h1.8v1.84h-1.8zM908.4 520.8h1.8v1.84h-1.8zM937.9 522.7h1.8v1.84h-1.8zM919.5 524.5h1.8v1.84h-1.8zM1020.6 524.5h1.8v1.84h-1.8zM901.1 526.3h1.8v1.84h-1.8zM908.4 526.3h1.8v1.84h-1.8zM1020.6 526.3h1.8v1.84h-1.8zM1068.4 530.0h1.8v1.84h-1.8zM958.1 531.9h1.8v1.84h-1.8zM954.4 533.7h5.5v1.84h-5.5zM983.8 537.4h1.8v1.84h-1.8zM989.3 548.4h1.8v1.84h-1.8zM1059.2 557.6h1.8v1.84h-1.8zM1059.2 559.5h1.8v1.84h-1.8z"/><path fill="#aaa" d="M1033.5 235.5h1.8v1.84h-1.8zM1015.1 253.9h1.8v1.84h-1.8zM932.3 274.2h1.8v1.84h-1.8zM958.1 285.2h1.8v1.84h-1.8zM871.7 287.1h1.8v1.84h-1.8zM958.1 287.1h1.8v1.84h-1.8zM875.3 296.3h1.8v1.84h-1.8zM1029.8 301.8h1.8v1.84h-1.8zM952.6 303.6h1.8v1.84h-1.8zM842.3 307.3h1.8v1.84h-1.8zM902.9 311.0h1.8v1.84h-1.8zM983.8 311.0h1.8v1.84h-1.8zM970.9 312.8h1.8v1.84h-1.8zM1000.4 314.7h1.8v1.84h-1.8zM862.5 316.5h1.8v1.84h-1.8zM921.3 316.5h1.8v1.84h-1.8zM941.5 316.5h3.7v1.84h-3.7zM893.7 318.3h1.8v1.84h-1.8zM945.2 318.3h1.8v1.84h-1.8zM970.9 318.3h1.8v1.84h-1.8zM1044.5 318.3h1.8v1.84h-1.8zM901.1 320.2h1.8v1.84h-1.8zM906.6 320.2h1.8v1.84h-1.8zM974.6 320.2h1.8v1.84h-1.8zM899.2 322.0h1.8v1.84h-1.8zM965.4 322.0h1.8v1.84h-1.8zM969.1 322.0h1.8v1.84h-1.8zM972.8 322.0h3.7v1.84h-3.7zM919.5 323.9h1.8v1.84h-1.8zM996.7 325.7h1.8v1.84h-1.8zM908.4 327.5h3.7v1.84h-3.7zM936.0 327.5h1.8v1.84h-1.8zM958.1 327.5h1.8v1.84h-1.8zM982.0 327.5h1.8v1.84h-1.8zM822.0 329.4h1.8v1.84h-1.8zM959.9 329.4h1.8v1.84h-1.8zM910.3 331.2h1.8v1.84h-1.8zM914.0 331.2h1.8v1.84h-1.8zM936.0 331.2h1.8v1.84h-1.8zM970.9 331.2h1.8v1.84h-1.8zM833.1 333.1h1.8v1.84h-1.8zM928.7 333.1h1.8v1.84h-1.8zM998.5 333.1h1.8v1.84h-1.8zM961.8 334.9h3.7v1.84h-3.7zM853.3 336.8h1.8v1.84h-1.8zM915.8 336.8h1.8v1.84h-1.8zM919.5 336.8h1.8v1.84h-1.8zM941.5 336.8h1.8v1.84h-1.8zM985.7 336.8h1.8v1.84h-1.8zM991.2 336.8h1.8v1.84h-1.8zM1011.4 336.8h1.8v1.84h-1.8zM969.1 338.6h1.8v1.84h-1.8zM989.3 338.6h3.7v1.84h-3.7zM818.4 340.4h1.8v1.84h-1.8zM827.5 340.4h1.8v1.84h-1.8zM901.1 340.4h1.8v1.84h-1.8zM917.6 340.4h1.8v1.84h-1.8zM840.4 342.3h1.8v1.84h-1.8zM888.2 342.3h1.8v1.84h-1.8zM921.3 342.3h1.8v1.84h-1.8zM862.5 344.1h1.8v1.84h-1.8zM921.3 344.1h3.7v1.84h-3.7zM928.7 344.1h3.7v1.84h-3.7zM925.0 346.0h1.8v1.84h-1.8zM941.5 346.0h1.8v1.84h-1.8zM950.7 346.0h1.8v1.84h-1.8zM941.5 347.8h1.8v1.84h-1.8zM947.0 347.8h1.8v1.84h-1.8zM1015.1 347.8h1.8v1.84h-1.8zM1066.5 347.8h1.8v1.84h-1.8zM890.1 349.6h1.8v1.84h-1.8zM978.3 349.6h1.8v1.84h-1.8zM1016.9 349.6h1.8v1.84h-1.8zM875.3 351.5h1.8v1.84h-1.8zM963.6 351.5h1.8v1.84h-1.8zM1016.9 351.5h1.8v1.84h-1.8zM1024.3 351.5h3.7v1.84h-3.7zM875.3 353.3h3.7v1.84h-3.7zM1000.4 353.3h1.8v1.84h-1.8zM974.6 355.2h1.8v1.84h-1.8zM917.6 357.0h1.8v1.84h-1.8zM932.3 357.0h1.8v1.84h-1.8zM959.9 357.0h1.8v1.84h-1.8zM877.2 358.8h1.8v1.84h-1.8zM930.5 358.8h1.8v1.84h-1.8zM1061.0 358.8h1.8v1.84h-1.8zM1092.3 358.8h1.8v1.84h-1.8zM912.1 360.7h3.7v1.84h-3.7zM943.4 360.7h1.8v1.84h-1.8zM1075.7 360.7h1.8v1.84h-1.8zM1092.3 360.7h1.8v1.84h-1.8zM921.3 362.5h1.8v1.84h-1.8zM961.8 362.5h1.8v1.84h-1.8zM976.5 362.5h1.8v1.84h-1.8zM991.2 362.5h1.8v1.84h-1.8zM831.2 364.4h1.8v1.84h-1.8zM882.7 364.4h1.8v1.84h-1.8zM921.3 364.4h1.8v1.84h-1.8zM947.0 364.4h1.8v1.84h-1.8zM967.3 364.4h1.8v1.84h-1.8zM1000.4 364.4h1.8v1.84h-1.8zM954.4 366.2h1.8v1.84h-1.8zM844.1 368.0h1.8v1.84h-1.8zM930.5 368.0h1.8v1.84h-1.8zM847.8 369.9h3.7v1.84h-3.7zM891.9 369.9h1.8v1.84h-1.8zM930.5 369.9h1.8v1.84h-1.8zM954.4 369.9h1.8v1.84h-1.8zM1007.7 369.9h1.8v1.84h-1.8zM1031.6 369.9h1.8v1.84h-1.8zM1130.9 369.9h1.8v1.84h-1.8zM800.0 371.7h1.8v1.84h-1.8zM906.6 371.7h1.8v1.84h-1.8zM937.9 371.7h3.7v1.84h-3.7zM954.4 371.7h1.8v1.84h-1.8zM1007.7 371.7h1.8v1.84h-1.8zM1027.9 371.7h1.8v1.84h-1.8zM1130.9 371.7h1.8v1.84h-1.8zM937.9 373.6h1.8v1.84h-1.8zM950.7 373.6h1.8v1.84h-1.8zM877.2 375.4h1.8v1.84h-1.8zM897.4 375.4h1.8v1.84h-1.8zM902.9 375.4h1.8v1.84h-1.8zM970.9 377.2h1.8v1.84h-1.8zM980.1 377.2h1.8v1.84h-1.8zM1051.8 377.2h1.8v1.84h-1.8zM882.7 379.1h1.8v1.84h-1.8zM950.7 379.1h1.8v1.84h-1.8zM1051.8 379.1h1.8v1.84h-1.8zM1130.9 379.1h1.8v1.84h-1.8zM914.0 380.9h1.8v1.84h-1.8zM923.1 380.9h1.8v1.84h-1.8zM950.7 380.9h1.8v1.84h-1.8zM963.6 382.8h1.8v1.84h-1.8zM1055.5 382.8h1.8v1.84h-1.8zM912.1 384.6h1.8v1.84h-1.8zM921.3 384.6h1.8v1.84h-1.8zM972.8 384.6h1.8v1.84h-1.8zM993.0 384.6h1.8v1.84h-1.8zM814.7 386.4h1.8v1.84h-1.8zM978.3 386.4h3.7v1.84h-3.7zM893.7 388.3h1.8v1.84h-1.8zM937.9 388.3h1.8v1.84h-1.8zM842.3 392.0h1.8v1.84h-1.8zM857.0 392.0h3.7v1.84h-3.7zM952.6 392.0h1.8v1.84h-1.8zM842.3 393.8h1.8v1.84h-1.8zM1105.2 395.6h1.8v1.84h-1.8zM825.7 397.5h1.8v1.84h-1.8zM800.0 399.3h3.7v1.84h-3.7zM871.7 401.2h1.8v1.84h-1.8zM1022.4 401.2h1.8v1.84h-1.8zM1107.0 401.2h1.8v1.84h-1.8zM1114.3 401.2h1.8v1.84h-1.8zM1121.7 401.2h1.8v1.84h-1.8zM831.2 406.7h1.8v1.84h-1.8zM838.6 406.7h1.8v1.84h-1.8zM1092.3 406.7h1.8v1.84h-1.8zM1114.3 408.5h1.8v1.84h-1.8zM1073.9 410.4h1.8v1.84h-1.8zM823.9 412.2h3.7v1.84h-3.7zM1053.7 412.2h3.7v1.84h-3.7zM1018.7 414.1h1.8v1.84h-1.8zM1024.3 415.9h1.8v1.84h-1.8zM1027.9 415.9h1.8v1.84h-1.8zM1053.7 415.9h1.8v1.84h-1.8zM1119.9 415.9h1.8v1.84h-1.8zM890.1 417.7h1.8v1.84h-1.8zM1077.6 419.6h1.8v1.84h-1.8zM880.9 421.4h1.8v1.84h-1.8zM1066.5 421.4h1.8v1.84h-1.8zM1066.5 423.3h1.8v1.84h-1.8zM855.1 425.1h1.8v1.84h-1.8zM1068.4 425.1h1.8v1.84h-1.8zM1110.7 426.9h1.8v1.84h-1.8zM1141.9 426.9h1.8v1.84h-1.8zM1094.1 428.8h1.8v1.84h-1.8zM825.7 430.6h1.8v1.84h-1.8zM899.2 430.6h1.8v1.84h-1.8zM1057.4 430.6h1.8v1.84h-1.8zM1077.6 430.6h1.8v1.84h-1.8zM1099.6 430.6h1.8v1.84h-1.8zM1033.5 432.5h1.8v1.84h-1.8zM761.4 434.3h1.8v1.84h-1.8zM987.5 434.3h1.8v1.84h-1.8zM1094.1 434.3h1.8v1.84h-1.8zM1107.0 434.3h1.8v1.84h-1.8zM1138.2 434.3h1.8v1.84h-1.8zM1141.9 434.3h1.8v1.84h-1.8zM987.5 436.1h3.7v1.84h-3.7zM994.8 436.1h1.8v1.84h-1.8zM987.5 438.0h1.8v1.84h-1.8zM1140.1 438.0h1.8v1.84h-1.8zM1037.1 439.8h1.8v1.84h-1.8zM1094.1 439.8h1.8v1.84h-1.8zM866.2 445.3h1.8v1.84h-1.8zM886.4 445.3h1.8v1.84h-1.8zM1083.1 445.3h1.8v1.84h-1.8zM1099.6 445.3h1.8v1.84h-1.8zM844.1 447.2h1.8v1.84h-1.8zM980.1 447.2h1.8v1.84h-1.8zM998.5 447.2h1.8v1.84h-1.8zM1051.8 447.2h1.8v1.84h-1.8zM829.4 449.0h1.8v1.84h-1.8zM840.4 449.0h1.8v1.84h-1.8zM989.3 449.0h1.8v1.84h-1.8zM1051.8 449.0h1.8v1.84h-1.8zM1097.8 449.0h1.8v1.84h-1.8zM807.3 450.9h1.8v1.84h-1.8zM834.9 450.9h1.8v1.84h-1.8zM987.5 450.9h3.7v1.84h-3.7zM1000.4 452.7h1.8v1.84h-1.8zM1013.2 452.7h1.8v1.84h-1.8zM1070.2 452.7h1.8v1.84h-1.8zM1029.8 454.6h1.8v1.84h-1.8zM1040.8 454.6h3.7v1.84h-3.7zM822.0 456.4h1.8v1.84h-1.8zM1022.4 456.4h1.8v1.84h-1.8zM1029.8 456.4h1.8v1.84h-1.8zM1024.3 458.2h1.8v1.84h-1.8zM998.5 460.1h3.7v1.84h-3.7zM1044.5 460.1h1.8v1.84h-1.8zM1050.0 460.1h1.8v1.84h-1.8zM809.2 461.9h1.8v1.84h-1.8zM829.4 461.9h1.8v1.84h-1.8zM1033.5 461.9h3.7v1.84h-3.7zM1051.8 461.9h1.8v1.84h-1.8zM816.5 463.8h1.8v1.84h-1.8zM1022.4 463.8h1.8v1.84h-1.8zM820.2 465.6h1.8v1.84h-1.8zM825.7 465.6h1.8v1.84h-1.8zM987.5 465.6h1.8v1.84h-1.8zM1083.1 465.6h1.8v1.84h-1.8zM972.8 467.4h1.8v1.84h-1.8zM976.5 467.4h1.8v1.84h-1.8zM980.1 467.4h1.8v1.84h-1.8zM1059.2 467.4h1.8v1.84h-1.8zM805.5 469.3h3.7v1.84h-3.7zM980.1 469.3h1.8v1.84h-1.8zM807.3 471.1h1.8v1.84h-1.8zM982.0 471.1h1.8v1.84h-1.8zM974.6 473.0h1.8v1.84h-1.8zM980.1 473.0h1.8v1.84h-1.8zM1070.2 473.0h1.8v1.84h-1.8zM963.6 474.8h1.8v1.84h-1.8zM967.3 474.8h1.8v1.84h-1.8zM822.0 476.6h3.7v1.84h-3.7zM1050.0 476.6h1.8v1.84h-1.8zM1057.4 476.6h1.8v1.84h-1.8zM1090.4 476.6h1.8v1.84h-1.8zM974.6 478.5h1.8v1.84h-1.8zM1018.7 478.5h1.8v1.84h-1.8zM1050.0 478.5h1.8v1.84h-1.8zM1081.3 478.5h1.8v1.84h-1.8zM829.4 480.3h1.8v1.84h-1.8zM1084.9 480.3h3.7v1.84h-3.7zM844.1 484.0h1.8v1.84h-1.8zM1083.1 484.0h1.8v1.84h-1.8zM820.2 485.8h1.8v1.84h-1.8zM825.7 485.8h1.8v1.84h-1.8zM833.1 485.8h1.8v1.84h-1.8zM934.2 485.8h1.8v1.84h-1.8zM1075.7 485.8h1.8v1.84h-1.8zM820.2 487.7h1.8v1.84h-1.8zM943.4 487.7h1.8v1.84h-1.8zM1011.4 487.7h1.8v1.84h-1.8zM844.1 489.5h1.8v1.84h-1.8zM899.2 489.5h1.8v1.84h-1.8zM937.9 489.5h1.8v1.84h-1.8zM816.5 491.4h1.8v1.84h-1.8zM895.6 491.4h1.8v1.84h-1.8zM974.6 491.4h1.8v1.84h-1.8zM1090.4 491.4h1.8v1.84h-1.8zM816.5 493.2h1.8v1.84h-1.8zM939.7 493.2h5.5v1.84h-5.5zM961.8 493.2h1.8v1.84h-1.8zM1090.4 493.2h1.8v1.84h-1.8zM906.6 495.0h1.8v1.84h-1.8zM965.4 495.0h1.8v1.84h-1.8zM1079.4 495.0h1.8v1.84h-1.8zM899.2 496.9h3.7v1.84h-3.7zM923.1 496.9h1.8v1.84h-1.8zM941.5 496.9h1.8v1.84h-1.8zM1037.1 496.9h1.8v1.84h-1.8zM833.1 498.7h1.8v1.84h-1.8zM847.8 498.7h1.8v1.84h-1.8zM921.3 498.7h1.8v1.84h-1.8zM925.0 498.7h1.8v1.84h-1.8zM937.9 498.7h1.8v1.84h-1.8zM934.2 500.6h1.8v1.84h-1.8zM937.9 500.6h1.8v1.84h-1.8zM829.4 502.4h1.8v1.84h-1.8zM930.5 502.4h1.8v1.84h-1.8zM844.1 504.2h1.8v1.84h-1.8zM932.3 504.2h1.8v1.84h-1.8zM972.8 504.2h1.8v1.84h-1.8zM956.2 506.1h1.8v1.84h-1.8zM958.1 509.8h1.8v1.84h-1.8zM963.6 509.8h1.8v1.84h-1.8zM877.2 511.6h1.8v1.84h-1.8zM833.1 517.1h1.8v1.84h-1.8zM908.4 517.1h1.8v1.84h-1.8zM1081.3 524.5h1.8v1.84h-1.8zM884.5 528.2h3.7v1.84h-3.7zM919.5 531.9h1.8v1.84h-1.8zM879.0 541.1h1.8v1.84h-1.8zM947.0 548.4h1.8v1.84h-1.8zM901.1 557.6h1.8v1.84h-1.8z"/><path fill="#d0d0d0" d="M875.3 231.8h1.8v1.84h-1.8zM834.9 235.5h1.8v1.84h-1.8zM880.9 235.5h1.8v1.84h-1.8zM1031.6 250.2h1.8v1.84h-1.8zM1015.1 252.1h1.8v1.84h-1.8zM823.9 257.6h1.8v1.84h-1.8zM939.7 261.3h1.8v1.84h-1.8zM1037.1 268.6h1.8v1.84h-1.8zM978.3 301.8h1.8v1.84h-1.8zM1029.8 303.6h1.8v1.84h-1.8zM982.0 311.0h1.8v1.84h-1.8zM963.6 312.8h1.8v1.84h-1.8zM982.0 312.8h1.8v1.84h-1.8zM998.5 312.8h1.8v1.84h-1.8zM921.3 314.7h1.8v1.84h-1.8zM869.8 316.5h1.8v1.84h-1.8zM943.4 318.3h1.8v1.84h-1.8zM1046.3 318.3h1.8v1.84h-1.8zM925.0 320.2h1.8v1.84h-1.8zM965.4 320.2h1.8v1.84h-1.8zM1044.5 320.2h1.8v1.84h-1.8zM763.2 322.0h1.8v1.84h-1.8zM934.2 322.0h3.7v1.84h-3.7zM958.1 322.0h3.7v1.84h-3.7zM915.8 323.9h1.8v1.84h-1.8zM958.1 325.7h1.8v1.84h-1.8zM970.9 325.7h1.8v1.84h-1.8zM1007.7 325.7h3.7v1.84h-3.7zM761.4 327.5h1.8v1.84h-1.8zM902.9 327.5h1.8v1.84h-1.8zM919.5 327.5h3.7v1.84h-3.7zM956.2 327.5h1.8v1.84h-1.8zM959.9 327.5h1.8v1.84h-1.8zM1009.6 327.5h1.8v1.84h-1.8zM763.2 331.2h1.8v1.84h-1.8zM934.2 331.2h1.8v1.84h-1.8zM1037.1 331.2h1.8v1.84h-1.8zM761.4 333.1h1.8v1.84h-1.8zM834.9 333.1h1.8v1.84h-1.8zM908.4 333.1h1.8v1.84h-1.8zM980.1 333.1h1.8v1.84h-1.8zM996.7 333.1h1.8v1.84h-1.8zM1096.0 333.1h1.8v1.84h-1.8zM980.1 334.9h1.8v1.84h-1.8zM1000.4 334.9h1.8v1.84h-1.8zM1005.9 334.9h1.8v1.84h-1.8zM932.3 336.8h1.8v1.84h-1.8zM983.8 336.8h1.8v1.84h-1.8zM1002.2 336.8h1.8v1.84h-1.8zM1007.7 336.8h1.8v1.84h-1.8zM982.0 338.6h3.7v1.84h-3.7zM1005.9 338.6h1.8v1.84h-1.8zM820.2 340.4h1.8v1.84h-1.8zM879.0 340.4h1.8v1.84h-1.8zM961.8 340.4h1.8v1.84h-1.8zM967.3 340.4h1.8v1.84h-1.8zM1004.0 340.4h1.8v1.84h-1.8zM961.8 342.3h1.8v1.84h-1.8zM1048.2 344.1h1.8v1.84h-1.8zM855.1 346.0h1.8v1.84h-1.8zM1037.1 346.0h1.8v1.84h-1.8zM948.9 347.8h3.7v1.84h-3.7zM1068.4 347.8h1.8v1.84h-1.8zM923.1 349.6h1.8v1.84h-1.8zM1024.3 349.6h1.8v1.84h-1.8zM987.5 351.5h1.8v1.84h-1.8zM969.1 355.2h1.8v1.84h-1.8zM989.3 355.2h1.8v1.84h-1.8zM871.7 357.0h1.8v1.84h-1.8zM967.3 357.0h3.7v1.84h-3.7zM1062.9 357.0h1.8v1.84h-1.8zM890.1 358.8h1.8v1.84h-1.8zM917.6 358.8h1.8v1.84h-1.8zM928.7 358.8h1.8v1.84h-1.8zM932.3 358.8h3.7v1.84h-3.7zM998.5 358.8h1.8v1.84h-1.8zM1015.1 358.8h1.8v1.84h-1.8zM1066.5 358.8h1.8v1.84h-1.8zM1073.9 358.8h1.8v1.84h-1.8zM921.3 360.7h1.8v1.84h-1.8zM936.0 360.7h1.8v1.84h-1.8zM967.3 360.7h1.8v1.84h-1.8zM825.7 362.5h1.8v1.84h-1.8zM873.5 362.5h1.8v1.84h-1.8zM901.1 362.5h1.8v1.84h-1.8zM908.4 362.5h1.8v1.84h-1.8zM925.0 362.5h1.8v1.84h-1.8zM956.2 362.5h1.8v1.84h-1.8zM1138.2 362.5h1.8v1.84h-1.8zM836.7 364.4h1.8v1.84h-1.8zM976.5 364.4h1.8v1.84h-1.8zM1020.6 364.4h1.8v1.84h-1.8zM803.6 368.0h1.8v1.84h-1.8zM932.3 368.0h1.8v1.84h-1.8zM890.1 369.9h1.8v1.84h-1.8zM932.3 369.9h1.8v1.84h-1.8zM965.4 369.9h1.8v1.84h-1.8zM917.6 373.6h1.8v1.84h-1.8zM866.2 375.4h1.8v1.84h-1.8zM895.6 375.4h1.8v1.84h-1.8zM914.0 375.4h1.8v1.84h-1.8zM1099.6 375.4h1.8v1.84h-1.8zM895.6 377.2h1.8v1.84h-1.8zM914.0 377.2h1.8v1.84h-1.8zM972.8 377.2h1.8v1.84h-1.8zM982.0 377.2h1.8v1.84h-1.8zM1031.6 377.2h1.8v1.84h-1.8zM1053.7 377.2h1.8v1.84h-1.8zM908.4 379.1h1.8v1.84h-1.8zM993.0 379.1h1.8v1.84h-1.8zM902.9 380.9h1.8v1.84h-1.8zM972.8 380.9h3.7v1.84h-3.7zM818.4 382.8h1.8v1.84h-1.8zM921.3 382.8h1.8v1.84h-1.8zM959.9 382.8h1.8v1.84h-1.8zM844.1 384.6h1.8v1.84h-1.8zM864.3 384.6h1.8v1.84h-1.8zM906.6 384.6h1.8v1.84h-1.8zM928.7 384.6h1.8v1.84h-1.8zM917.6 386.4h1.8v1.84h-1.8zM1108.8 386.4h1.8v1.84h-1.8zM941.5 388.3h1.8v1.84h-1.8zM893.7 390.1h1.8v1.84h-1.8zM950.7 390.1h1.8v1.84h-1.8zM833.1 392.0h1.8v1.84h-1.8zM862.5 393.8h1.8v1.84h-1.8zM959.9 395.6h1.8v1.84h-1.8zM1090.4 395.6h1.8v1.84h-1.8zM1057.4 397.5h1.8v1.84h-1.8zM1022.4 399.3h1.8v1.84h-1.8zM1114.3 399.3h1.8v1.84h-1.8zM1066.5 403.0h3.7v1.84h-3.7zM1114.3 403.0h1.8v1.84h-1.8zM831.2 404.9h1.8v1.84h-1.8zM836.7 406.7h1.8v1.84h-1.8zM860.6 406.7h1.8v1.84h-1.8zM1048.2 408.5h1.8v1.84h-1.8zM836.7 412.2h1.8v1.84h-1.8zM818.4 414.1h1.8v1.84h-1.8zM1073.9 414.1h3.7v1.84h-3.7zM858.8 415.9h1.8v1.84h-1.8zM1068.4 423.3h1.8v1.84h-1.8zM765.0 425.1h1.8v1.84h-1.8zM857.0 425.1h3.7v1.84h-3.7zM761.4 426.9h1.8v1.84h-1.8zM869.8 426.9h1.8v1.84h-1.8zM1050.0 426.9h1.8v1.84h-1.8zM1046.3 428.8h1.8v1.84h-1.8zM1141.9 428.8h1.8v1.84h-1.8zM875.3 430.6h1.8v1.84h-1.8zM1059.2 430.6h1.8v1.84h-1.8zM866.2 432.5h1.8v1.84h-1.8zM1094.1 432.5h1.8v1.84h-1.8zM1141.9 432.5h1.8v1.84h-1.8zM820.2 434.3h1.8v1.84h-1.8zM1103.3 434.3h1.8v1.84h-1.8zM765.0 436.1h1.8v1.84h-1.8zM820.2 436.1h1.8v1.84h-1.8zM985.7 436.1h1.8v1.84h-1.8zM1000.4 436.1h1.8v1.84h-1.8zM1140.1 436.1h1.8v1.84h-1.8zM1002.2 438.0h1.8v1.84h-1.8zM1033.5 438.0h1.8v1.84h-1.8zM1037.1 438.0h1.8v1.84h-1.8zM1055.5 439.8h1.8v1.84h-1.8zM845.9 441.7h1.8v1.84h-1.8zM1004.0 441.7h1.8v1.84h-1.8zM788.9 443.5h1.8v1.84h-1.8zM1000.4 443.5h1.8v1.84h-1.8zM1099.6 443.5h1.8v1.84h-1.8zM983.8 445.3h1.8v1.84h-1.8zM842.3 447.2h1.8v1.84h-1.8zM983.8 447.2h1.8v1.84h-1.8zM1029.8 447.2h1.8v1.84h-1.8zM1083.1 447.2h1.8v1.84h-1.8zM1099.6 447.2h1.8v1.84h-1.8zM993.0 449.0h1.8v1.84h-1.8zM998.5 449.0h1.8v1.84h-1.8zM994.8 450.9h1.8v1.84h-1.8zM1000.4 450.9h1.8v1.84h-1.8zM1020.6 450.9h1.8v1.84h-1.8zM1046.3 450.9h3.7v1.84h-3.7zM1077.6 450.9h1.8v1.84h-1.8zM1094.1 450.9h1.8v1.84h-1.8zM1083.1 452.7h3.7v1.84h-3.7zM1094.1 452.7h1.8v1.84h-1.8zM1103.3 452.7h1.8v1.84h-1.8zM822.0 454.6h1.8v1.84h-1.8zM827.5 454.6h1.8v1.84h-1.8zM989.3 456.4h1.8v1.84h-1.8zM1083.1 456.4h1.8v1.84h-1.8zM857.0 458.2h1.8v1.84h-1.8zM1055.5 458.2h1.8v1.84h-1.8zM989.3 460.1h1.8v1.84h-1.8zM1055.5 460.1h1.8v1.84h-1.8zM1075.7 460.1h1.8v1.84h-1.8zM1099.6 460.1h1.8v1.84h-1.8zM833.1 461.9h1.8v1.84h-1.8zM855.1 461.9h1.8v1.84h-1.8zM998.5 461.9h1.8v1.84h-1.8zM1044.5 461.9h1.8v1.84h-1.8zM1096.0 461.9h1.8v1.84h-1.8zM805.5 463.8h3.7v1.84h-3.7zM829.4 463.8h1.8v1.84h-1.8zM1035.3 463.8h1.8v1.84h-1.8zM816.5 465.6h1.8v1.84h-1.8zM827.5 465.6h1.8v1.84h-1.8zM1035.3 465.6h1.8v1.84h-1.8zM1040.8 465.6h1.8v1.84h-1.8zM873.5 467.4h1.8v1.84h-1.8zM1057.4 467.4h1.8v1.84h-1.8zM1018.7 469.3h1.8v1.84h-1.8zM1072.1 469.3h3.7v1.84h-3.7zM1079.4 469.3h1.8v1.84h-1.8zM1061.0 471.1h1.8v1.84h-1.8zM1081.3 471.1h1.8v1.84h-1.8zM822.0 473.0h3.7v1.84h-3.7zM1068.4 473.0h1.8v1.84h-1.8zM972.8 474.8h1.8v1.84h-1.8zM1081.3 474.8h3.7v1.84h-3.7zM965.4 476.6h1.8v1.84h-1.8zM974.6 476.6h1.8v1.84h-1.8zM980.1 476.6h1.8v1.84h-1.8zM976.5 478.5h1.8v1.84h-1.8zM1070.2 478.5h1.8v1.84h-1.8zM823.9 482.2h1.8v1.84h-1.8zM930.5 482.2h3.7v1.84h-3.7zM1040.8 482.2h1.8v1.84h-1.8zM831.2 484.0h1.8v1.84h-1.8zM827.5 485.8h1.8v1.84h-1.8zM831.2 485.8h1.8v1.84h-1.8zM794.5 487.7h1.8v1.84h-1.8zM919.5 489.5h1.8v1.84h-1.8zM926.8 489.5h1.8v1.84h-1.8zM939.7 489.5h1.8v1.84h-1.8zM1086.8 489.5h1.8v1.84h-1.8zM919.5 491.4h1.8v1.84h-1.8zM926.8 491.4h1.8v1.84h-1.8zM941.5 491.4h1.8v1.84h-1.8zM923.1 493.2h1.8v1.84h-1.8zM937.9 493.2h1.8v1.84h-1.8zM970.9 493.2h1.8v1.84h-1.8zM1079.4 493.2h1.8v1.84h-1.8zM831.2 495.0h1.8v1.84h-1.8zM847.8 495.0h1.8v1.84h-1.8zM921.3 495.0h1.8v1.84h-1.8zM941.5 495.0h1.8v1.84h-1.8zM961.8 495.0h1.8v1.84h-1.8zM976.5 495.0h1.8v1.84h-1.8zM919.5 496.9h1.8v1.84h-1.8zM919.5 498.7h1.8v1.84h-1.8zM928.7 498.7h1.8v1.84h-1.8zM936.0 498.7h1.8v1.84h-1.8zM939.7 498.7h1.8v1.84h-1.8zM970.9 498.7h1.8v1.84h-1.8zM976.5 500.6h1.8v1.84h-1.8zM800.0 502.4h1.8v1.84h-1.8zM827.5 504.2h1.8v1.84h-1.8zM840.4 504.2h1.8v1.84h-1.8zM956.2 504.2h1.8v1.84h-1.8zM959.9 506.1h1.8v1.84h-1.8zM974.6 506.1h1.8v1.84h-1.8zM965.4 507.9h1.8v1.84h-1.8zM969.1 507.9h1.8v1.84h-1.8zM1035.3 507.9h1.8v1.84h-1.8zM842.3 513.5h1.8v1.84h-1.8zM847.8 553.9h1.8v1.84h-1.8z"/><path fill="#fff" d="M937.9 263.1h5.5v1.84h-5.5zM877.2 296.3h1.8v1.84h-1.8zM875.3 298.1h3.7v1.84h-3.7zM1015.1 312.8h3.7v1.84h-3.7zM891.9 314.7h1.8v1.84h-1.8zM970.9 314.7h1.8v1.84h-1.8zM998.5 314.7h1.8v1.84h-1.8zM985.7 316.5h3.7v1.84h-3.7zM969.1 318.3h1.8v1.84h-1.8zM763.2 320.2h3.7v1.84h-3.7zM926.8 320.2h3.7v1.84h-3.7zM958.1 320.2h3.7v1.84h-3.7zM989.3 320.2h1.8v1.84h-1.8zM994.8 320.2h1.8v1.84h-1.8zM1046.3 320.2h1.8v1.84h-1.8zM765.0 322.0h1.8v1.84h-1.8zM923.1 322.0h1.8v1.84h-1.8zM976.5 322.0h1.8v1.84h-1.8zM1046.3 322.0h1.8v1.84h-1.8zM969.1 323.9h3.7v1.84h-3.7zM976.5 323.9h1.8v1.84h-1.8zM1005.9 323.9h3.7v1.84h-3.7zM969.1 325.7h1.8v1.84h-1.8zM983.8 325.7h1.8v1.84h-1.8zM998.5 325.7h1.8v1.84h-1.8zM1004.0 325.7h3.7v1.84h-3.7zM934.2 327.5h1.8v1.84h-1.8zM983.8 327.5h1.8v1.84h-1.8zM996.7 327.5h3.7v1.84h-3.7zM1004.0 327.5h5.5v1.84h-5.5zM1011.4 327.5h1.8v1.84h-1.8zM761.4 329.4h1.8v1.84h-1.8zM934.2 329.4h3.7v1.84h-3.7zM996.7 329.4h3.7v1.84h-3.7zM1004.0 329.4h11.0v1.84h-11.0zM761.4 331.2h1.8v1.84h-1.8zM923.1 331.2h3.7v1.84h-3.7zM947.0 331.2h1.8v1.84h-1.8zM996.7 331.2h3.7v1.84h-3.7zM1002.2 331.2h9.2v1.84h-9.2zM912.1 333.1h1.8v1.84h-1.8zM923.1 333.1h1.8v1.84h-1.8zM1005.9 333.1h7.4v1.84h-7.4zM1026.1 333.1h1.8v1.84h-1.8zM1002.2 334.9h1.8v1.84h-1.8zM1007.7 334.9h3.7v1.84h-3.7zM930.5 336.8h1.8v1.84h-1.8zM1009.6 336.8h1.8v1.84h-1.8zM967.3 338.6h1.8v1.84h-1.8zM969.1 340.4h1.8v1.84h-1.8zM989.3 340.4h1.8v1.84h-1.8zM1075.7 340.4h1.8v1.84h-1.8zM871.7 344.1h1.8v1.84h-1.8zM879.0 344.1h1.8v1.84h-1.8zM888.2 344.1h1.8v1.84h-1.8zM845.9 346.0h1.8v1.84h-1.8zM862.5 346.0h1.8v1.84h-1.8zM879.0 346.0h1.8v1.84h-1.8zM926.8 346.0h1.8v1.84h-1.8zM845.9 347.8h1.8v1.84h-1.8zM998.5 349.6h1.8v1.84h-1.8zM1068.4 349.6h1.8v1.84h-1.8zM965.4 351.5h1.8v1.84h-1.8zM985.7 351.5h1.8v1.84h-1.8zM985.7 353.3h3.7v1.84h-3.7zM1092.3 353.3h3.7v1.84h-3.7zM1118.0 353.3h1.8v1.84h-1.8zM794.5 355.2h1.8v1.84h-1.8zM1094.1 355.2h1.8v1.84h-1.8zM989.3 357.0h1.8v1.84h-1.8zM1000.4 357.0h1.8v1.84h-1.8zM1015.1 357.0h1.8v1.84h-1.8zM1061.0 357.0h1.8v1.84h-1.8zM943.4 358.8h3.7v1.84h-3.7zM965.4 358.8h3.7v1.84h-3.7zM1000.4 358.8h1.8v1.84h-1.8zM1075.7 358.8h1.8v1.84h-1.8zM901.1 360.7h1.8v1.84h-1.8zM1048.2 360.7h1.8v1.84h-1.8zM902.9 362.5h1.8v1.84h-1.8zM923.1 362.5h1.8v1.84h-1.8zM1048.2 362.5h1.8v1.84h-1.8zM908.4 364.4h1.8v1.84h-1.8zM923.1 364.4h1.8v1.84h-1.8zM991.2 364.4h1.8v1.84h-1.8zM1136.4 364.4h1.8v1.84h-1.8zM862.5 366.2h1.8v1.84h-1.8zM998.5 366.2h3.7v1.84h-3.7zM1020.6 366.2h3.7v1.84h-3.7zM1134.6 366.2h3.7v1.84h-3.7zM862.5 368.0h1.8v1.84h-1.8zM928.7 368.0h1.8v1.84h-1.8zM1136.4 368.0h1.8v1.84h-1.8zM875.3 369.9h1.8v1.84h-1.8zM910.3 369.9h1.8v1.84h-1.8zM1129.1 369.9h1.8v1.84h-1.8zM991.2 371.7h1.8v1.84h-1.8zM1129.1 371.7h1.8v1.84h-1.8zM991.2 373.6h1.8v1.84h-1.8zM923.1 375.4h1.8v1.84h-1.8zM970.9 375.4h1.8v1.84h-1.8zM985.7 375.4h3.7v1.84h-3.7zM1064.7 375.4h1.8v1.84h-1.8zM1044.5 377.2h1.8v1.84h-1.8zM928.7 379.1h1.8v1.84h-1.8zM974.6 379.1h1.8v1.84h-1.8zM991.2 379.1h1.8v1.84h-1.8zM1132.7 379.1h3.7v1.84h-3.7zM925.0 380.9h1.8v1.84h-1.8zM928.7 380.9h1.8v1.84h-1.8zM1130.9 380.9h5.5v1.84h-5.5zM906.6 382.8h1.8v1.84h-1.8zM923.1 382.8h3.7v1.84h-3.7zM956.2 382.8h3.7v1.84h-3.7zM972.8 382.8h1.8v1.84h-1.8zM866.2 384.6h1.8v1.84h-1.8zM917.6 384.6h3.7v1.84h-3.7zM1055.5 384.6h1.8v1.84h-1.8zM882.7 386.4h1.8v1.84h-1.8zM921.3 386.4h1.8v1.84h-1.8zM1081.3 386.4h1.8v1.84h-1.8zM1081.3 388.3h1.8v1.84h-1.8zM937.9 390.1h1.8v1.84h-1.8zM941.5 390.1h1.8v1.84h-1.8zM952.6 390.1h1.8v1.84h-1.8zM1027.9 392.0h1.8v1.84h-1.8zM950.7 393.8h1.8v1.84h-1.8zM1088.6 397.5h1.8v1.84h-1.8zM1057.4 399.3h1.8v1.84h-1.8zM811.0 401.2h1.8v1.84h-1.8zM1057.4 401.2h1.8v1.84h-1.8zM811.0 403.0h1.8v1.84h-1.8zM1105.2 406.7h1.8v1.84h-1.8zM1046.3 408.5h1.8v1.84h-1.8zM1147.4 408.5h1.8v1.84h-1.8zM1046.3 410.4h3.7v1.84h-3.7zM1072.1 410.4h1.8v1.84h-1.8zM1147.4 410.4h1.8v1.84h-1.8zM834.9 412.2h1.8v1.84h-1.8zM1073.9 412.2h3.7v1.84h-3.7zM1026.1 415.9h1.8v1.84h-1.8zM1145.6 415.9h1.8v1.84h-1.8zM1145.6 417.7h1.8v1.84h-1.8zM827.5 419.6h1.8v1.84h-1.8zM1079.4 419.6h1.8v1.84h-1.8zM834.9 421.4h1.8v1.84h-1.8zM763.2 425.1h1.8v1.84h-1.8zM1020.6 425.1h1.8v1.84h-1.8zM1140.1 425.1h1.8v1.84h-1.8zM763.2 426.9h3.7v1.84h-3.7zM1002.2 426.9h1.8v1.84h-1.8zM1046.3 426.9h3.7v1.84h-3.7zM1138.2 426.9h3.7v1.84h-3.7zM763.2 428.8h1.8v1.84h-1.8zM1000.4 428.8h3.7v1.84h-3.7zM1048.2 428.8h3.7v1.84h-3.7zM1138.2 428.8h3.7v1.84h-3.7zM823.9 430.6h1.8v1.84h-1.8zM1000.4 430.6h3.7v1.84h-3.7zM1079.4 430.6h1.8v1.84h-1.8zM1138.2 430.6h5.5v1.84h-5.5zM763.2 432.5h1.8v1.84h-1.8zM901.1 432.5h1.8v1.84h-1.8zM1000.4 432.5h3.7v1.84h-3.7zM1057.4 432.5h1.8v1.84h-1.8zM1138.2 432.5h3.7v1.84h-3.7zM763.2 434.3h3.7v1.84h-3.7zM831.2 434.3h1.8v1.84h-1.8zM1002.2 434.3h1.8v1.84h-1.8zM1140.1 434.3h1.8v1.84h-1.8zM763.2 436.1h1.8v1.84h-1.8zM847.8 436.1h1.8v1.84h-1.8zM993.0 436.1h1.8v1.84h-1.8zM1031.6 436.1h3.7v1.84h-3.7zM847.8 438.0h1.8v1.84h-1.8zM982.0 438.0h5.5v1.84h-5.5zM991.2 438.0h5.5v1.84h-5.5zM1031.6 438.0h1.8v1.84h-1.8zM1051.8 438.0h1.8v1.84h-1.8zM982.0 439.8h14.7v1.84h-14.7zM1035.3 439.8h1.8v1.84h-1.8zM1051.8 439.8h3.7v1.84h-3.7zM847.8 441.7h1.8v1.84h-1.8zM985.7 441.7h14.7v1.84h-14.7zM1002.2 441.7h1.8v1.84h-1.8zM985.7 443.5h12.9v1.84h-12.9zM1011.4 443.5h1.8v1.84h-1.8zM1053.7 443.5h1.8v1.84h-1.8zM788.9 445.3h1.8v1.84h-1.8zM868.0 445.3h1.8v1.84h-1.8zM985.7 445.3h14.7v1.84h-14.7zM1053.7 445.3h3.7v1.84h-3.7zM985.7 447.2h12.9v1.84h-12.9zM1000.4 447.2h1.8v1.84h-1.8zM1062.9 447.2h1.8v1.84h-1.8zM1086.8 447.2h1.8v1.84h-1.8zM1097.8 447.2h1.8v1.84h-1.8zM1112.5 447.2h3.7v1.84h-3.7zM879.0 449.0h1.8v1.84h-1.8zM983.8 449.0h5.5v1.84h-5.5zM991.2 449.0h1.8v1.84h-1.8zM994.8 449.0h1.8v1.84h-1.8zM1018.7 449.0h3.7v1.84h-3.7zM1079.4 449.0h1.8v1.84h-1.8zM1101.5 449.0h1.8v1.84h-1.8zM985.7 450.9h1.8v1.84h-1.8zM993.0 450.9h1.8v1.84h-1.8zM1068.4 450.9h1.8v1.84h-1.8zM825.7 452.7h3.7v1.84h-3.7zM993.0 452.7h1.8v1.84h-1.8zM996.7 452.7h3.7v1.84h-3.7zM1050.0 452.7h1.8v1.84h-1.8zM1068.4 452.7h1.8v1.84h-1.8zM1077.6 452.7h1.8v1.84h-1.8zM991.2 454.6h11.0v1.84h-11.0zM1031.6 454.6h1.8v1.84h-1.8zM1077.6 454.6h1.8v1.84h-1.8zM991.2 456.4h7.4v1.84h-7.4zM991.2 458.2h5.5v1.84h-5.5zM855.1 460.1h3.7v1.84h-3.7zM991.2 460.1h3.7v1.84h-3.7zM831.2 461.9h1.8v1.84h-1.8zM845.9 461.9h3.7v1.84h-3.7zM857.0 461.9h1.8v1.84h-1.8zM993.0 461.9h3.7v1.84h-3.7zM1050.0 461.9h1.8v1.84h-1.8zM818.4 463.8h1.8v1.84h-1.8zM831.2 463.8h1.8v1.84h-1.8zM993.0 463.8h3.7v1.84h-3.7zM1040.8 463.8h1.8v1.84h-1.8zM818.4 465.6h1.8v1.84h-1.8zM993.0 465.6h3.7v1.84h-3.7zM1037.1 465.6h1.8v1.84h-1.8zM1044.5 465.6h1.8v1.84h-1.8zM1057.4 465.6h1.8v1.84h-1.8zM818.4 467.4h1.8v1.84h-1.8zM825.7 467.4h1.8v1.84h-1.8zM857.0 467.4h3.7v1.84h-3.7zM974.6 467.4h1.8v1.84h-1.8zM978.3 467.4h1.8v1.84h-1.8zM993.0 467.4h3.7v1.84h-3.7zM1044.5 467.4h1.8v1.84h-1.8zM1048.2 467.4h3.7v1.84h-3.7zM970.9 469.3h7.4v1.84h-7.4zM1075.7 469.3h1.8v1.84h-1.8zM972.8 471.1h7.4v1.84h-7.4zM985.7 471.1h1.8v1.84h-1.8zM1059.2 471.1h1.8v1.84h-1.8zM1072.1 471.1h7.4v1.84h-7.4zM976.5 473.0h3.7v1.84h-3.7zM983.8 473.0h3.7v1.84h-3.7zM1018.7 473.0h1.8v1.84h-1.8zM1059.2 473.0h3.7v1.84h-3.7zM1072.1 473.0h9.2v1.84h-9.2zM822.0 474.8h3.7v1.84h-3.7zM965.4 474.8h1.8v1.84h-1.8zM969.1 474.8h3.7v1.84h-3.7zM976.5 474.8h3.7v1.84h-3.7zM1055.5 474.8h3.7v1.84h-3.7zM1072.1 474.8h9.2v1.84h-9.2zM1103.3 474.8h1.8v1.84h-1.8zM967.3 476.6h7.4v1.84h-7.4zM976.5 476.6h3.7v1.84h-3.7zM1072.1 476.6h11.0v1.84h-11.0zM1103.3 476.6h1.8v1.84h-1.8zM1072.1 478.5h9.2v1.84h-9.2zM1088.6 478.5h1.8v1.84h-1.8zM814.7 480.3h1.8v1.84h-1.8zM1072.1 480.3h1.8v1.84h-1.8zM1075.7 480.3h5.5v1.84h-5.5zM833.1 484.0h1.8v1.84h-1.8zM930.5 484.0h3.7v1.84h-3.7zM1086.8 484.0h1.8v1.84h-1.8zM930.5 485.8h3.7v1.84h-3.7zM1077.6 485.8h1.8v1.84h-1.8zM930.5 487.7h5.5v1.84h-5.5zM897.4 489.5h1.8v1.84h-1.8zM901.1 489.5h11.0v1.84h-11.0zM928.7 489.5h9.2v1.84h-9.2zM941.5 489.5h3.7v1.84h-3.7zM963.6 489.5h1.8v1.84h-1.8zM970.9 489.5h1.8v1.84h-1.8zM897.4 491.4h16.5v1.84h-16.5zM921.3 491.4h3.7v1.84h-3.7zM928.7 491.4h12.9v1.84h-12.9zM943.4 491.4h1.8v1.84h-1.8zM963.6 491.4h1.8v1.84h-1.8zM970.9 491.4h3.7v1.84h-3.7zM976.5 491.4h1.8v1.84h-1.8zM895.6 493.2h18.4v1.84h-18.4zM921.3 493.2h1.8v1.84h-1.8zM925.0 493.2h12.9v1.84h-12.9zM963.6 493.2h1.8v1.84h-1.8zM972.8 493.2h5.5v1.84h-5.5zM1081.3 493.2h1.8v1.84h-1.8zM897.4 495.0h9.2v1.84h-9.2zM908.4 495.0h3.7v1.84h-3.7zM923.1 495.0h18.4v1.84h-18.4zM963.6 495.0h1.8v1.84h-1.8zM969.1 495.0h7.4v1.84h-7.4zM1044.5 495.0h1.8v1.84h-1.8zM1081.3 495.0h1.8v1.84h-1.8zM831.2 496.9h3.7v1.84h-3.7zM847.8 496.9h1.8v1.84h-1.8zM902.9 496.9h1.8v1.84h-1.8zM926.8 496.9h14.7v1.84h-14.7zM963.6 496.9h1.8v1.84h-1.8zM969.1 496.9h7.4v1.84h-7.4zM1029.8 496.9h1.8v1.84h-1.8zM845.9 498.7h1.8v1.84h-1.8zM930.5 498.7h5.5v1.84h-5.5zM974.6 498.7h1.8v1.84h-1.8zM816.5 500.6h1.8v1.84h-1.8zM932.3 500.6h1.8v1.84h-1.8zM967.3 500.6h3.7v1.84h-3.7zM1062.9 500.6h1.8v1.84h-1.8zM842.3 502.4h1.8v1.84h-1.8zM932.3 502.4h3.7v1.84h-3.7zM967.3 502.4h3.7v1.84h-3.7zM974.6 502.4h1.8v1.84h-1.8zM829.4 504.2h1.8v1.84h-1.8zM842.3 504.2h1.8v1.84h-1.8zM958.1 504.2h3.7v1.84h-3.7zM967.3 504.2h3.7v1.84h-3.7zM1035.3 504.2h1.8v1.84h-1.8zM1103.3 504.2h1.8v1.84h-1.8zM827.5 506.1h1.8v1.84h-1.8zM842.3 506.1h1.8v1.84h-1.8zM958.1 506.1h1.8v1.84h-1.8zM965.4 506.1h5.5v1.84h-5.5zM1033.5 506.1h3.7v1.84h-3.7zM956.2 507.9h3.7v1.84h-3.7zM967.3 507.9h1.8v1.84h-1.8zM961.8 509.8h1.8v1.84h-1.8zM965.4 509.8h1.8v1.84h-1.8zM961.8 511.6h1.8v1.84h-1.8z"/></g>
<path d="M735.68 632.2v7.8M735.68 159.1v-7.8M714.45 611.36h-7.8M1187.0 611.36h7.8M843.33 632.2v7.8M843.33 159.1v-7.8M714.45 503.50h-7.8M1187.0 503.50h7.8M950.98 632.2v7.8M950.98 159.1v-7.8M714.45 395.65h-7.8M1187.0 395.65h7.8M1058.63 632.2v7.8M1058.63 159.1v-7.8M714.45 287.79h-7.8M1187.0 287.79h7.8M1166.28 632.2v7.8M1166.28 159.1v-7.8M714.45 179.94h-7.8M1187.0 179.94h7.8" stroke="#000" stroke-width="2.1" fill="none"/>
<text x="735.28" y="670.30" font-size="25.8" text-anchor="middle">−1000</text>
<text x="842.93" y="670.30" font-size="25.8" text-anchor="middle">−500</text>
<text x="951.48" y="670.30" font-size="25.8" text-anchor="middle">0</text>
<text x="1058.63" y="670.30" font-size="25.8" text-anchor="middle">500</text>
<text x="1166.28" y="670.30" font-size="25.8" text-anchor="middle">1000</text>
<text x="950.98" y="710.60" font-size="31.4" text-anchor="middle">Solar-X [arcsec]</text>
<text x="658.60" y="112.00" font-size="36.5">(b)</text>
<text transform="translate(950.98 90.30) scale(1.033 1.0)" font-size="35.3" text-anchor="middle">AI-generated data</text>
<text font-size="35.3" xml:space="preserve"><tspan x="897.16 910" y="133.6">( </tspan><tspan x="922.35" y="133.6" font-style="italic">M</tspan><tspan x="952.95" y="139.3" font-size="26.88" font-style="italic" textLength="25.06" lengthAdjust="spacingAndGlyphs">AI</tspan><tspan x="982 991.97" y="133.6"> )</tspan></text>
<rect x="834.12" y="278.45" width="58.78" height="58.80" fill="none" stroke="#0000ff" stroke-width="3.9" stroke-linejoin="round"/>
<rect x="804.73" y="366.30" width="58.78" height="58.80" fill="none" stroke="#0000ff" stroke-width="3.9" stroke-linejoin="round"/>
<rect x="981.07" y="307.20" width="58.78" height="58.80" fill="none" stroke="#ff0000" stroke-width="3.9" stroke-linejoin="round"/>
<rect x="951.68" y="425.40" width="58.78" height="58.80" fill="none" stroke="#ff0000" stroke-width="3.9" stroke-linejoin="round"/>
<rect x="863.51" y="454.95" width="58.78" height="58.80" fill="none" stroke="#ff0000" stroke-width="3.9" stroke-linejoin="round"/>
<rect x="735.60" y="764.45" width="428.05" height="18.5" fill="url(#g1)" stroke="#000" stroke-width="2.1"/>
<path d="M735.60 783.7v7.8M842.61 783.7v7.8M949.62 783.7v7.8M1056.64 783.7v7.8M1163.65 783.7v7.8" stroke="#000" stroke-width="2.1" fill="none"/>
<text x="735.60" y="821.60" font-size="25.8" text-anchor="middle">−100</text>
<text x="842.61" y="821.60" font-size="25.8" text-anchor="middle">−50</text>
<text x="949.62" y="821.60" font-size="25.8" text-anchor="middle">0</text>
<text x="1056.64" y="821.60" font-size="25.8" text-anchor="middle">50</text>
<text x="1163.65" y="821.60" font-size="25.8" text-anchor="middle">100</text>
<text x="950.98" y="856.60" font-size="26.0" text-anchor="middle">LOS Magnetic Field [Gauss]</text>
</g>
<g id="panel2">
<rect x="1279.2" y="159.1" width="472.65" height="473.10" fill="#000"/>
<ellipse cx="1516.0" cy="395.65" rx="205.8" ry="205.9" fill="#808080"/>
<g filter="url(#sb)" clip-path="url(#dk2)"><path fill="#8e8e8e" d="M1574.4 215.3h1.8v1.84h-1.8zM1605.6 219.0h1.8v1.84h-1.8zM1605.6 220.8h1.8v1.84h-1.8zM1567.0 224.5h1.8v1.84h-1.8zM1609.3 230.0h1.8v1.84h-1.8zM1596.4 233.7h1.8v1.84h-1.8zM1561.5 246.6h1.8v1.84h-1.8zM1613.0 255.8h1.8v1.84h-1.8zM1493.5 257.6h1.8v1.84h-1.8zM1473.2 268.6h1.8v1.84h-1.8zM1635.1 276.0h1.8v1.84h-1.8zM1543.1 283.4h1.8v1.84h-1.8zM1627.7 294.4h1.8v1.84h-1.8zM1462.2 318.3h1.8v1.84h-1.8zM1335.3 322.0h1.8v1.84h-1.8zM1618.5 322.0h1.8v1.84h-1.8zM1471.4 323.9h1.8v1.84h-1.8zM1335.3 325.7h1.8v1.84h-1.8zM1587.2 325.7h1.8v1.84h-1.8zM1432.8 327.5h1.8v1.84h-1.8zM1324.3 331.2h1.8v1.84h-1.8zM1653.4 331.2h1.8v1.84h-1.8zM1500.8 336.8h1.8v1.84h-1.8zM1489.8 340.4h1.8v1.84h-1.8zM1436.5 342.3h1.8v1.84h-1.8zM1668.2 344.1h1.8v1.84h-1.8zM1438.3 347.8h1.8v1.84h-1.8zM1339.0 349.6h1.8v1.84h-1.8zM1375.8 349.6h1.8v1.84h-1.8zM1399.7 349.6h1.8v1.84h-1.8zM1449.3 358.8h1.8v1.84h-1.8zM1331.6 366.2h1.8v1.84h-1.8zM1600.1 366.2h1.8v1.84h-1.8zM1565.2 369.9h1.8v1.84h-1.8zM1565.2 371.7h3.7v1.84h-3.7zM1517.4 373.6h1.8v1.84h-1.8zM1515.5 375.4h1.8v1.84h-1.8zM1491.6 377.2h1.8v1.84h-1.8zM1704.9 377.2h1.8v1.84h-1.8zM1456.7 379.1h1.8v1.84h-1.8zM1679.2 380.9h1.8v1.84h-1.8zM1443.8 382.8h1.8v1.84h-1.8zM1447.5 382.8h1.8v1.84h-1.8zM1447.5 384.6h1.8v1.84h-1.8zM1662.6 388.3h1.8v1.84h-1.8zM1659.0 395.6h1.8v1.84h-1.8zM1476.9 397.5h1.8v1.84h-1.8zM1532.1 397.5h1.8v1.84h-1.8zM1489.8 403.0h1.8v1.84h-1.8zM1454.8 404.9h1.8v1.84h-1.8zM1353.7 410.4h1.8v1.84h-1.8zM1445.6 410.4h1.8v1.84h-1.8zM1600.1 410.4h1.8v1.84h-1.8zM1353.7 412.2h1.8v1.84h-1.8zM1590.9 417.7h1.8v1.84h-1.8zM1486.1 419.6h1.8v1.84h-1.8zM1539.4 421.4h1.8v1.84h-1.8zM1636.9 421.4h1.8v1.84h-1.8zM1419.9 423.3h1.8v1.84h-1.8zM1443.8 423.3h1.8v1.84h-1.8zM1500.8 423.3h1.8v1.84h-1.8zM1519.2 423.3h1.8v1.84h-1.8zM1635.1 430.6h1.8v1.84h-1.8zM1403.4 432.5h1.8v1.84h-1.8zM1502.7 432.5h1.8v1.84h-1.8zM1592.8 434.3h1.8v1.84h-1.8zM1666.3 436.1h1.8v1.84h-1.8zM1557.8 439.8h1.8v1.84h-1.8zM1447.5 441.7h3.7v1.84h-3.7zM1550.5 441.7h1.8v1.84h-1.8zM1445.6 443.5h1.8v1.84h-1.8zM1449.3 443.5h1.8v1.84h-1.8zM1633.2 443.5h1.8v1.84h-1.8zM1443.8 445.3h1.8v1.84h-1.8zM1487.9 445.3h1.8v1.84h-1.8zM1535.8 445.3h1.8v1.84h-1.8zM1546.8 445.3h1.8v1.84h-1.8zM1467.7 447.2h1.8v1.84h-1.8zM1486.1 449.0h1.8v1.84h-1.8zM1517.4 449.0h1.8v1.84h-1.8zM1556.0 449.0h1.8v1.84h-1.8zM1396.0 450.9h1.8v1.84h-1.8zM1620.3 450.9h1.8v1.84h-1.8zM1482.4 452.7h1.8v1.84h-1.8zM1537.6 452.7h1.8v1.84h-1.8zM1607.5 452.7h1.8v1.84h-1.8zM1550.5 454.6h1.8v1.84h-1.8zM1607.5 454.6h1.8v1.84h-1.8zM1465.9 456.4h1.8v1.84h-1.8zM1526.6 456.4h1.8v1.84h-1.8zM1454.8 458.2h1.8v1.84h-1.8zM1521.0 458.2h1.8v1.84h-1.8zM1453.0 460.1h1.8v1.84h-1.8zM1561.5 460.1h1.8v1.84h-1.8zM1677.3 461.9h1.8v1.84h-1.8zM1602.0 467.4h1.8v1.84h-1.8zM1491.6 469.3h1.8v1.84h-1.8zM1410.7 471.1h1.8v1.84h-1.8zM1408.9 473.0h1.8v1.84h-1.8zM1438.3 473.0h1.8v1.84h-1.8zM1565.2 473.0h1.8v1.84h-1.8zM1635.1 474.8h1.8v1.84h-1.8zM1408.9 476.6h1.8v1.84h-1.8zM1364.7 478.5h1.8v1.84h-1.8zM1383.1 480.3h1.8v1.84h-1.8zM1554.1 480.3h1.8v1.84h-1.8zM1640.6 480.3h1.8v1.84h-1.8zM1561.5 482.2h1.8v1.84h-1.8zM1449.3 484.0h1.8v1.84h-1.8zM1500.8 484.0h1.8v1.84h-1.8zM1475.1 485.8h1.8v1.84h-1.8zM1557.8 485.8h1.8v1.84h-1.8zM1491.6 487.7h1.8v1.84h-1.8zM1456.7 489.5h1.8v1.84h-1.8zM1673.7 489.5h1.8v1.84h-1.8zM1673.7 491.4h1.8v1.84h-1.8zM1443.8 493.2h1.8v1.84h-1.8zM1502.7 493.2h1.8v1.84h-1.8zM1544.9 493.2h3.7v1.84h-3.7zM1559.7 493.2h1.8v1.84h-1.8zM1445.6 495.0h1.8v1.84h-1.8zM1510.0 496.9h1.8v1.84h-1.8zM1403.4 498.7h1.8v1.84h-1.8zM1563.3 498.7h1.8v1.84h-1.8zM1533.9 500.6h1.8v1.84h-1.8zM1440.1 502.4h3.7v1.84h-3.7zM1574.4 502.4h3.7v1.84h-3.7zM1537.6 504.2h1.8v1.84h-1.8zM1438.3 506.1h1.8v1.84h-1.8zM1484.3 507.9h1.8v1.84h-1.8zM1508.2 507.9h1.8v1.84h-1.8zM1484.3 509.8h1.8v1.84h-1.8zM1546.8 509.8h1.8v1.84h-1.8zM1489.8 517.1h1.8v1.84h-1.8zM1587.2 517.1h1.8v1.84h-1.8zM1596.4 517.1h1.8v1.84h-1.8zM1673.7 517.1h1.8v1.84h-1.8zM1386.8 520.8h1.8v1.84h-1.8zM1467.7 520.8h1.8v1.84h-1.8zM1511.8 520.8h1.8v1.84h-1.8zM1556.0 520.8h1.8v1.84h-1.8zM1407.0 522.7h1.8v1.84h-1.8zM1421.7 522.7h1.8v1.84h-1.8zM1668.2 522.7h1.8v1.84h-1.8zM1383.1 526.3h1.8v1.84h-1.8zM1508.2 528.2h1.8v1.84h-1.8zM1578.0 542.9h1.8v1.84h-1.8zM1611.1 574.2h1.8v1.84h-1.8zM1611.1 576.0h1.8v1.84h-1.8zM1486.1 577.9h3.7v1.84h-3.7zM1556.0 585.2h1.8v1.84h-1.8zM1541.3 587.1h1.8v1.84h-1.8zM1541.3 588.9h1.8v1.84h-1.8z"/><path fill="#9c9c9c" d="M1456.7 198.7h1.8v1.84h-1.8zM1576.2 215.3h1.8v1.84h-1.8zM1565.2 224.5h1.8v1.84h-1.8zM1572.5 230.0h1.8v1.84h-1.8zM1565.2 268.6h1.8v1.84h-1.8zM1438.3 274.2h1.8v1.84h-1.8zM1533.9 281.5h1.8v1.84h-1.8zM1556.0 281.5h1.8v1.84h-1.8zM1460.4 309.1h1.8v1.84h-1.8zM1649.8 318.3h1.8v1.84h-1.8zM1333.5 322.0h1.8v1.84h-1.8zM1596.4 323.9h1.8v1.84h-1.8zM1581.7 327.5h1.8v1.84h-1.8zM1589.1 329.4h1.8v1.84h-1.8zM1513.7 331.2h3.7v1.84h-3.7zM1651.6 331.2h1.8v1.84h-1.8zM1581.7 333.1h1.8v1.84h-1.8zM1697.6 333.1h3.7v1.84h-3.7zM1394.2 344.1h1.8v1.84h-1.8zM1502.7 346.0h1.8v1.84h-1.8zM1351.9 347.8h1.8v1.84h-1.8zM1692.1 349.6h1.8v1.84h-1.8zM1693.9 351.5h1.8v1.84h-1.8zM1467.7 357.0h1.8v1.84h-1.8zM1618.5 371.7h1.8v1.84h-1.8zM1703.1 379.1h1.8v1.84h-1.8zM1526.6 380.9h1.8v1.84h-1.8zM1379.4 382.8h1.8v1.84h-1.8zM1614.8 386.4h1.8v1.84h-1.8zM1388.6 404.9h1.8v1.84h-1.8zM1563.3 412.2h1.8v1.84h-1.8zM1563.3 414.1h1.8v1.84h-1.8zM1568.9 415.9h1.8v1.84h-1.8zM1522.9 426.9h1.8v1.84h-1.8zM1596.4 426.9h1.8v1.84h-1.8zM1556.0 441.7h1.8v1.84h-1.8zM1590.9 443.5h1.8v1.84h-1.8zM1445.6 445.3h1.8v1.84h-1.8zM1517.4 447.2h1.8v1.84h-1.8zM1495.3 449.0h1.8v1.84h-1.8zM1486.1 450.9h1.8v1.84h-1.8zM1517.4 452.7h1.8v1.84h-1.8zM1544.9 452.7h1.8v1.84h-1.8zM1602.0 452.7h1.8v1.84h-1.8zM1526.6 458.2h1.8v1.84h-1.8zM1456.7 461.9h1.8v1.84h-1.8zM1515.5 465.6h1.8v1.84h-1.8zM1539.4 467.4h3.7v1.84h-3.7zM1443.8 471.1h1.8v1.84h-1.8zM1638.7 474.8h1.8v1.84h-1.8zM1539.4 476.6h1.8v1.84h-1.8zM1655.3 476.6h1.8v1.84h-1.8zM1539.4 478.5h1.8v1.84h-1.8zM1458.5 480.3h1.8v1.84h-1.8zM1559.7 482.2h1.8v1.84h-1.8zM1469.6 485.8h1.8v1.84h-1.8zM1491.6 485.8h1.8v1.84h-1.8zM1486.1 489.5h1.8v1.84h-1.8zM1552.3 489.5h1.8v1.84h-1.8zM1419.9 491.4h1.8v1.84h-1.8zM1453.0 493.2h1.8v1.84h-1.8zM1445.6 496.9h1.8v1.84h-1.8zM1464.0 498.7h1.8v1.84h-1.8zM1533.9 502.4h1.8v1.84h-1.8zM1537.6 506.1h1.8v1.84h-1.8zM1624.0 509.8h1.8v1.84h-1.8zM1589.1 513.5h1.8v1.84h-1.8zM1515.5 515.3h1.8v1.84h-1.8zM1598.3 531.9h1.8v1.84h-1.8zM1603.8 542.9h1.8v1.84h-1.8zM1487.9 559.5h1.8v1.84h-1.8zM1589.1 568.7h1.8v1.84h-1.8z"/><path fill="#bcbcbc" d="M1442.0 242.9h1.8v1.84h-1.8zM1421.7 255.8h1.8v1.84h-1.8zM1414.4 294.4h1.8v1.84h-1.8zM1647.9 318.3h1.8v1.84h-1.8zM1432.8 320.2h1.8v1.84h-1.8zM1590.9 329.4h1.8v1.84h-1.8zM1616.7 329.4h1.8v1.84h-1.8zM1590.9 331.2h1.8v1.84h-1.8zM1344.5 334.9h1.8v1.84h-1.8zM1344.5 336.8h1.8v1.84h-1.8zM1579.9 336.8h1.8v1.84h-1.8zM1533.9 340.4h1.8v1.84h-1.8zM1583.6 340.4h1.8v1.84h-1.8zM1331.6 369.9h1.8v1.84h-1.8zM1517.4 375.4h1.8v1.84h-1.8zM1401.5 379.1h1.8v1.84h-1.8zM1614.8 384.6h1.8v1.84h-1.8zM1504.5 390.1h1.8v1.84h-1.8zM1405.2 415.9h1.8v1.84h-1.8zM1590.9 419.6h1.8v1.84h-1.8zM1703.1 425.1h1.8v1.84h-1.8zM1704.9 428.8h1.8v1.84h-1.8zM1519.2 434.3h1.8v1.84h-1.8zM1537.6 436.1h1.8v1.84h-1.8zM1530.2 441.7h1.8v1.84h-1.8zM1541.3 443.5h1.8v1.84h-1.8zM1478.7 447.2h1.8v1.84h-1.8zM1561.5 447.2h1.8v1.84h-1.8zM1557.8 449.0h3.7v1.84h-3.7zM1550.5 450.9h1.8v1.84h-1.8zM1611.1 450.9h1.8v1.84h-1.8zM1396.0 452.7h1.8v1.84h-1.8zM1557.8 458.2h1.8v1.84h-1.8zM1482.4 460.1h3.7v1.84h-3.7zM1559.7 460.1h1.8v1.84h-1.8zM1574.4 461.9h3.7v1.84h-3.7zM1521.0 465.6h3.7v1.84h-3.7zM1546.8 467.4h1.8v1.84h-1.8zM1600.1 467.4h1.8v1.84h-1.8zM1392.3 469.3h1.8v1.84h-1.8zM1646.1 469.3h1.8v1.84h-1.8zM1644.2 471.1h1.8v1.84h-1.8zM1449.3 473.0h1.8v1.84h-1.8zM1385.0 476.6h1.8v1.84h-1.8zM1489.8 476.6h1.8v1.84h-1.8zM1627.7 480.3h1.8v1.84h-1.8zM1458.5 482.2h1.8v1.84h-1.8zM1629.5 482.2h1.8v1.84h-1.8zM1460.4 485.8h1.8v1.84h-1.8zM1458.5 487.7h1.8v1.84h-1.8zM1469.6 487.7h5.5v1.84h-5.5zM1508.2 487.7h1.8v1.84h-1.8zM1443.8 489.5h1.8v1.84h-1.8zM1454.8 489.5h1.8v1.84h-1.8zM1464.0 489.5h3.7v1.84h-3.7zM1550.5 489.5h1.8v1.84h-1.8zM1476.9 491.4h1.8v1.84h-1.8zM1486.1 491.4h1.8v1.84h-1.8zM1499.0 491.4h3.7v1.84h-3.7zM1412.5 493.2h1.8v1.84h-1.8zM1454.8 493.2h1.8v1.84h-1.8zM1447.5 495.0h1.8v1.84h-1.8zM1465.9 498.7h1.8v1.84h-1.8zM1495.3 506.1h1.8v1.84h-1.8zM1572.5 506.1h1.8v1.84h-1.8zM1390.5 507.9h1.8v1.84h-1.8zM1541.3 507.9h1.8v1.84h-1.8zM1620.3 520.8h1.8v1.84h-1.8zM1587.2 522.7h1.8v1.84h-1.8zM1624.0 524.5h1.8v1.84h-1.8zM1581.7 528.2h1.8v1.84h-1.8zM1438.3 541.1h1.8v1.84h-1.8zM1585.4 548.4h1.8v1.84h-1.8z"/><path fill="#f4f4f4" d="M1324.3 327.5h1.8v1.84h-1.8zM1335.3 327.5h1.8v1.84h-1.8zM1324.3 329.4h1.8v1.84h-1.8zM1335.3 329.4h1.8v1.84h-1.8zM1581.7 331.2h5.5v1.84h-5.5zM1578.0 333.1h3.7v1.84h-3.7zM1583.6 333.1h3.7v1.84h-3.7zM1344.5 338.6h1.8v1.84h-1.8zM1703.1 375.4h1.8v1.84h-1.8zM1703.1 377.2h1.8v1.84h-1.8zM1655.3 397.5h3.7v1.84h-3.7zM1703.1 426.9h3.7v1.84h-3.7zM1703.1 428.8h1.8v1.84h-1.8zM1530.2 439.8h1.8v1.84h-1.8zM1539.4 443.5h1.8v1.84h-1.8zM1557.8 445.3h1.8v1.84h-1.8zM1533.9 447.2h3.7v1.84h-3.7zM1556.0 447.2h5.5v1.84h-5.5zM1544.9 449.0h3.7v1.84h-3.7zM1544.9 450.9h3.7v1.84h-3.7zM1554.1 450.9h1.8v1.84h-1.8zM1554.1 452.7h1.8v1.84h-1.8zM1559.7 456.4h1.8v1.84h-1.8zM1559.7 458.2h1.8v1.84h-1.8zM1458.5 461.9h1.8v1.84h-1.8zM1539.4 471.1h1.8v1.84h-1.8zM1646.1 471.1h1.8v1.84h-1.8zM1473.2 473.0h1.8v1.84h-1.8zM1636.9 474.8h1.8v1.84h-1.8zM1364.7 480.3h1.8v1.84h-1.8zM1629.5 480.3h1.8v1.84h-1.8zM1462.2 485.8h7.4v1.84h-7.4zM1471.4 485.8h1.8v1.84h-1.8zM1375.8 487.7h1.8v1.84h-1.8zM1453.0 487.7h5.5v1.84h-5.5zM1460.4 487.7h9.2v1.84h-9.2zM1442.0 491.4h3.7v1.84h-3.7zM1473.2 491.4h3.7v1.84h-3.7zM1447.5 493.2h3.7v1.84h-3.7zM1499.0 493.2h3.7v1.84h-3.7zM1449.3 495.0h1.8v1.84h-1.8zM1517.4 495.0h3.7v1.84h-3.7zM1517.4 496.9h1.8v1.84h-1.8zM1581.7 504.2h1.8v1.84h-1.8zM1581.7 506.1h1.8v1.84h-1.8zM1589.1 511.6h3.7v1.84h-3.7zM1590.9 513.5h1.8v1.84h-1.8z"/></g>
<path d="M1300.25 632.2v7.8M1300.25 159.1v-7.8M1279.2 611.36h-7.8M1751.85 611.36h7.8M1407.85 632.2v7.8M1407.85 159.1v-7.8M1279.2 503.50h-7.8M1751.85 503.50h7.8M1515.45 632.2v7.8M1515.45 159.1v-7.8M1279.2 395.65h-7.8M1751.85 395.65h7.8M1623.05 632.2v7.8M1623.05 159.1v-7.8M1279.2 287.79h-7.8M1751.85 287.79h7.8M1730.65 632.2v7.8M1730.65 159.1v-7.8M1279.2 179.94h-7.8M1751.85 179.94h7.8" stroke="#000" stroke-width="2.1" fill="none"/>
<text x="1299.85" y="670.30" font-size="25.8" text-anchor="middle">−1000</text>
<text x="1769.25" y="621.36" font-size="25.8">−1000</text>
<text x="1407.45" y="670.30" font-size="25.8" text-anchor="middle">−500</text>
<text x="1769.25" y="513.50" font-size="25.8">−500</text>
<text x="1515.95" y="670.30" font-size="25.8" text-anchor="middle">0</text>
<text x="1769.25" y="405.65" font-size="25.8">0</text>
<text x="1623.05" y="670.30" font-size="25.8" text-anchor="middle">500</text>
<text x="1769.25" y="297.79" font-size="25.8">500</text>
<text x="1730.65" y="670.30" font-size="25.8" text-anchor="middle">1000</text>
<text x="1769.25" y="189.94" font-size="25.8">1000</text>
<text x="1515.45" y="710.60" font-size="31.4" text-anchor="middle">Solar-X [arcsec]</text>
<text x="1224.64" y="112.00" font-size="36.5">(c)</text>
<text transform="translate(1515.00 91.40) scale(1.036 1.0)" font-size="35.3" text-anchor="middle">Difference ratio map</text>
<text font-size="35.3" xml:space="preserve"><tspan x="1316.56 1330 1341.45" y="134.5">( |</tspan><tspan x="1354.15" y="134.5" font-style="italic">M</tspan><tspan x="1384.75" y="139.6" font-size="26.88" font-style="italic" textLength="25.06" lengthAdjust="spacingAndGlyphs">AI</tspan><tspan x="1410 1419.46 1448" y="134.9"> − </tspan><tspan x="1456.75" y="134.5" font-style="italic">M</tspan><tspan x="1487.35" y="139.6" font-size="26.88" font-style="italic" textLength="48.90" lengthAdjust="spacingAndGlyphs">HMI</tspan><tspan x="1538.05 1550 1561.8 1575 1585.6" y="134.5">| / |</tspan><tspan x="1598.25" y="134.5" font-style="italic">M</tspan><tspan x="1628.85" y="139.6" font-size="26.88" font-style="italic" textLength="48.90" lengthAdjust="spacingAndGlyphs">HMI</tspan><tspan x="1679.45 1692 1703.97" y="134.5">| )</tspan></text>
<rect x="1301.16" y="764.45" width="428.14" height="18.5" fill="url(#g2)" stroke="#000" stroke-width="2.1"/>
<path d="M1301.16 783.7v7.8M1386.79 783.7v7.8M1472.42 783.7v7.8M1558.04 783.7v7.8M1643.67 783.7v7.8M1729.30 783.7v7.8" stroke="#000" stroke-width="2.1" fill="none"/>
<text x="1301.16" y="821.60" font-size="25.8" text-anchor="middle">0.0</text>
<text x="1386.79" y="821.60" font-size="25.8" text-anchor="middle">0.2</text>
<text x="1472.42" y="821.60" font-size="25.8" text-anchor="middle">0.4</text>
<text x="1558.04" y="821.60" font-size="25.8" text-anchor="middle">0.6</text>
<text x="1643.67" y="821.60" font-size="25.8" text-anchor="middle">0.8</text>
<text x="1729.30" y="821.60" font-size="25.8" text-anchor="middle">1.0</text>
<text x="1515.45" y="856.60" font-size="26.0" text-anchor="middle">Difference Ratio</text>
</g>
<text transform="translate(27.30 395.65) rotate(-90)" font-size="31.4" text-anchor="middle">Solar-Y [arcsec]</text>
<text transform="translate(1891.20 396.25) rotate(-90)" font-size="31.4" text-anchor="middle">Solar-Y [arcsec]</text>
</svg></body></html>
